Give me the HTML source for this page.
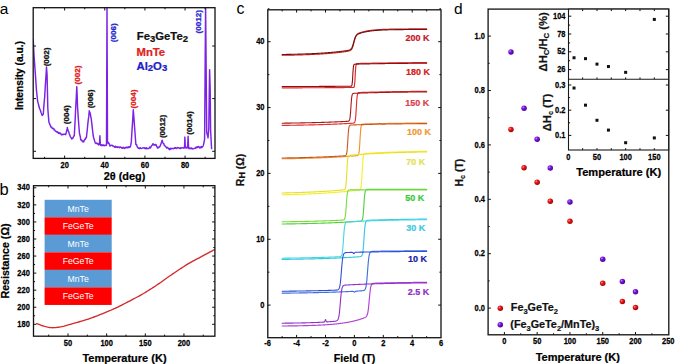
<!DOCTYPE html>
<html><head><meta charset="utf-8"><style>
html,body{margin:0;padding:0;background:#fff;width:675px;height:364px;overflow:hidden}
svg{display:block}
text{font-family:"Liberation Sans", sans-serif}
</style></head><body>
<svg width="675" height="364" viewBox="0 0 675 364">
<rect width="675" height="364" fill="#fff"/>
<text x="-0.3" y="14.0" font-size="15.5" fill="#000">a</text>
<text x="-0.6" y="195.0" font-size="16.5" fill="#000">b</text>
<text x="236.6" y="14.2" font-size="15.8" fill="#000">c</text>
<text x="453.9" y="13.8" font-size="15.5" fill="#000">d</text>
<clipPath id="ca"><rect x="33.2" y="7.7" width="181.8" height="150.70000000000002"/></clipPath>
<g clip-path="url(#ca)">
<path d="M33.2,39.6 L33.7,49.23 L34,55 L34.2,57.8 L34.7,64.8 L35,69 L35.2,71.88 L35.7,79.08 L36.2,86.28 L36.5,90.6 L36.7,92.49 L37.2,97.22 L37.6,101 L37.7,101.39 L38.2,103.34 L38.7,105.29 L39.2,107.24 L39.6,108.8 L39.7,108.95 L40,109.4 L40.2,109.63 L40.7,111.56 L41.2,113 L41.7,114.02 L42.2,115.4 L42.7,114.91 L43.2,114.3 L43.3,114 L43.7,108.33 L44.2,101.92 L44.7,96.74 L44.8,95 L45.2,88.07 L45.7,79.8 L46.2,72.64 L46.5,67 L46.7,69.63 L47.1,75 L47.2,80.19 L47.7,103.25 L47.8,108 L48.2,113.59 L48.7,119.66 L48.8,121.5 L49.2,122.69 L49.7,124.27 L50.2,125.03 L50.7,126.59 L51,127 L51.2,127.4 L51.7,126.95 L52.2,128.32 L52.7,128.49 L53.2,128.48 L53.7,128.5 L54.2,130.07 L54.7,129.92 L55.2,130.67 L55.7,131.29 L56.2,131.46 L56.5,131.4 L56.7,132.11 L57.2,131.67 L57.7,132.54 L58.2,132.34 L58.7,133.33 L59.2,133.55 L59.7,132.76 L60.2,133.11 L60.7,133.52 L61.2,134.87 L61.7,134.43 L62,134.7 L62.2,134.85 L62.7,134.31 L63.2,134.52 L63.7,134.27 L64.2,134.14 L64.7,134.39 L65.2,134.31 L65.7,134.68 L65.8,134.1 L66.2,132.59 L66.7,130.74 L67.2,128.44 L67.3,127.5 L67.7,129.59 L68.2,130.89 L68.3,131 L68.7,131.59 L69.2,133.88 L69.7,134.7 L70.2,136.33 L70.7,137.22 L71.2,137.73 L71.7,138.91 L71.9,139 L72.2,138.2 L72.7,138.4 L73.2,137.37 L73.7,136.3 L74.2,135.32 L74.3,135.8 L74.7,128.44 L75.2,118.81 L75.7,107.73 L76.2,98.9 L76.7,88.54 L76.8,86.7 L77.2,96.86 L77.6,108 L77.7,109.12 L78.2,116.85 L78.7,124.05 L79.2,129.95 L79.3,132 L79.7,134.33 L80.2,136.25 L80.7,139.6 L81.2,140.25 L81.7,140.04 L82.2,141.15 L82.7,141.63 L83.2,141.3 L83.5,141.5 L83.7,141.94 L84.2,140.32 L84.7,139.34 L85.2,139.41 L85.7,137.96 L86.2,137.54 L86.4,137.7 L86.7,134.79 L87.2,130.43 L87.7,125.16 L88.2,120.36 L88.7,116.88 L89.2,111.47 L89.3,110.8 L89.7,112.42 L90.2,113 L90.7,116.31 L91.2,118.5 L91.7,122.65 L92.2,127.09 L92.7,131.5 L93.2,135.8 L93.7,137.76 L94.2,139.46 L94.7,141.17 L95.1,142.5 L95.2,142.72 L95.7,143.42 L96.2,143.06 L96.7,143.2 L97.2,143.86 L97.7,143.43 L98.2,143.77 L98.7,144.97 L98.9,144.4 L99.2,144.23 L99.5,144 L99.7,139.97 L99.9,135.8 L100.2,141.64 L100.3,144.5 L100.7,145.1 L100.8,145.4 L101.2,145.51 L101.7,144.73 L102.2,145.56 L102.7,145.59 L103.2,144.78 L103.7,145.58 L104.2,145.35 L104.7,145.65 L105.2,145.19 L105.7,145.4 L106.2,145.44 L106.5,145 L106.7,89.33 L107,6.7 L107.2,59.53 L107.5,143 L107.7,142.28 L108.2,142.9 L108.5,142.5 L108.7,143.62 L109.2,143.78 L109.7,145.24 L110,146 L110.2,146.07 L110.7,145.54 L111.2,145.45 L111.7,145.23 L112,145.4 L112.2,145.34 L112.7,145.98 L113.2,145.88 L113.7,146.31 L114.2,146.8 L114.7,147.24 L115.2,146.25 L115.7,147.06 L116.2,147.35 L116.7,146.81 L117.2,146.74 L117.7,147.61 L118.2,146.88 L118.7,146.86 L119.2,147.26 L119.7,147.69 L120.2,146.91 L120.7,147.27 L121.2,147.35 L121.7,148.1 L122.2,147.6 L122.7,148.24 L123.2,147.34 L123.7,147.63 L124.2,148.12 L124.7,148.51 L125,148 L125.2,147.89 L125.7,147.46 L126.2,147.2 L126.7,147.66 L127.2,147.07 L127.7,147.82 L128.2,147.75 L128.7,146.72 L129.2,146.74 L129.7,147.37 L130.2,147.02 L130.3,146.8 L130.7,145.43 L131.2,142.53 L131.3,142.3 L131.7,135.28 L132.2,127.38 L132.7,119.96 L133.2,111.1 L133.3,109.8 L133.7,115.02 L134.2,121.92 L134.7,128.73 L134.8,130.2 L135.2,135.31 L135.7,142.57 L135.9,144.6 L136.2,144.5 L136.7,144.91 L137.2,146.86 L137.7,147.4 L138.2,148.18 L138.6,148 L138.7,147.91 L139.2,148.65 L139.7,148.64 L140.2,147.67 L140.7,148.43 L141.2,148.58 L141.7,148.35 L142.2,148.17 L142.7,147.87 L143.2,147.96 L143.7,147.82 L144.2,147.62 L144.7,148.37 L145.2,147.97 L145.7,148.72 L146.1,148.3 L146.2,147.65 L146.7,148.77 L147.2,148.4 L147.7,148.65 L148.2,148.54 L148.7,148.46 L149.2,147.94 L149.7,147.07 L150.2,148.02 L150.7,147.6 L151.2,146.28 L151.7,145.59 L152.2,145.24 L152.7,144.18 L152.9,143.8 L153.2,143.9 L153.7,145.01 L154.2,144.93 L154.5,145 L154.7,144.72 L155.2,144.47 L155.7,145.19 L156,144.6 L156.2,145.02 L156.7,146.58 L157.2,147.11 L157.5,148 L157.7,147.47 L158.2,147.67 L158.7,147.79 L159.2,146.61 L159.7,146.8 L160.2,145.84 L160.7,144.65 L161.2,143.12 L161.7,141.77 L162,140.5 L162.2,140.23 L162.7,142.14 L163.2,143.51 L163.7,143.42 L164.2,144.77 L164.3,145.3 L164.7,145.39 L165.2,146.28 L165.7,146.66 L166.2,147.25 L166.5,147.6 L166.7,148.12 L167.2,147.36 L167.7,147.76 L168.2,148.19 L168.7,148.51 L168.8,149.1 L169.2,148.44 L169.7,149.64 L170.2,149.41 L170.7,148.27 L171.2,148.78 L171.7,148.46 L172.2,148.39 L172.7,148.37 L173.2,148.72 L173.7,148.57 L174.2,148.19 L174.7,147.88 L174.8,148.3 L175.2,148.04 L175.7,147.72 L176.2,148.3 L176.7,148.5 L177.2,148 L177.7,147.56 L178.2,147.67 L178.7,147.91 L179.2,148.21 L179.7,148.43 L180.2,147.84 L180.7,148.4 L181.2,148.13 L181.7,147.83 L182.2,147.72 L182.7,147.87 L183.2,148.13 L183.7,147.71 L184.1,147.8 L184.2,148.07 L184.5,147.8 L184.7,142.4 L184.9,137.1 L185.2,144.77 L185.3,147.8 L185.7,147.85 L186.2,148.07 L186.7,147.2 L187.2,147.69 L187.6,147.8 L187.7,145.38 L188.1,136.2 L188.2,139.05 L188.6,147.8 L188.7,148.44 L189.2,147.79 L189.7,148.66 L190.2,148.65 L190.7,148.05 L191.2,148.47 L191.5,148.6 L191.7,148.04 L192.2,148.92 L192.7,148.63 L193.2,148.86 L193.7,148.65 L194.2,148.39 L194.7,148.4 L195.2,148.09 L195.7,147.36 L196.2,147.96 L196.4,147.8 L196.7,146.97 L197.2,146.92 L197.7,147.57 L198.1,147 L198.2,146.4 L198.7,146.63 L199.2,146.81 L199.7,148.07 L200.2,147.25 L200.5,147.8 L200.7,147 L201.2,147.8 L201.7,146.45 L202.2,147.13 L202.7,146.55 L203,146.1 L203.2,145.75 L203.7,143.85 L204.2,141.26 L204.6,139.5 L204.7,126.47 L205.2,58.15 L205.6,6.7 L205.7,16.92 L206.2,74.29 L206.7,132 L207.2,134.57 L207.7,135.99 L208,137.9 L208.2,135.77 L208.7,129.85 L208.8,128 L209.2,98.24 L209.6,69.7 L209.7,72.84 L210.2,90 L210.6,130 L210.7,131.95 L211.2,141.62 L211.6,148.6" fill="none" stroke="#7b22e6" stroke-width="1.45" stroke-linejoin="round" stroke-linecap="round" />
</g>
<rect x="33.2" y="7.7" width="181.8" height="150.7" fill="none" stroke="#111" stroke-width="1.3"/>
<line x1="64.64" y1="158.4" x2="64.64" y2="155.6" stroke="#111" stroke-width="1.0"/>
<line x1="104.78" y1="158.4" x2="104.78" y2="155.6" stroke="#111" stroke-width="1.0"/>
<line x1="144.92" y1="158.4" x2="144.92" y2="155.6" stroke="#111" stroke-width="1.0"/>
<line x1="185.06" y1="158.4" x2="185.06" y2="155.6" stroke="#111" stroke-width="1.0"/>
<line x1="44.57" y1="158.4" x2="44.57" y2="156.8" stroke="#111" stroke-width="1.0"/>
<line x1="84.71" y1="158.4" x2="84.71" y2="156.8" stroke="#111" stroke-width="1.0"/>
<line x1="124.85" y1="158.4" x2="124.85" y2="156.8" stroke="#111" stroke-width="1.0"/>
<line x1="164.99" y1="158.4" x2="164.99" y2="156.8" stroke="#111" stroke-width="1.0"/>
<line x1="205.13" y1="158.4" x2="205.13" y2="156.8" stroke="#111" stroke-width="1.0"/>
<line x1="64.64" y1="7.7" x2="64.64" y2="10.5" stroke="#111" stroke-width="1.0"/>
<line x1="104.78" y1="7.7" x2="104.78" y2="10.5" stroke="#111" stroke-width="1.0"/>
<line x1="144.92" y1="7.7" x2="144.92" y2="10.5" stroke="#111" stroke-width="1.0"/>
<line x1="185.06" y1="7.7" x2="185.06" y2="10.5" stroke="#111" stroke-width="1.0"/>
<line x1="44.57" y1="7.7" x2="44.57" y2="9.3" stroke="#111" stroke-width="1.0"/>
<line x1="84.71" y1="7.7" x2="84.71" y2="9.3" stroke="#111" stroke-width="1.0"/>
<line x1="124.85" y1="7.7" x2="124.85" y2="9.3" stroke="#111" stroke-width="1.0"/>
<line x1="164.99" y1="7.7" x2="164.99" y2="9.3" stroke="#111" stroke-width="1.0"/>
<line x1="205.13" y1="7.7" x2="205.13" y2="9.3" stroke="#111" stroke-width="1.0"/>
<line x1="33.2" y1="46" x2="36" y2="46" stroke="#111" stroke-width="1.0"/>
<line x1="33.2" y1="98.6" x2="36" y2="98.6" stroke="#111" stroke-width="1.0"/>
<line x1="33.2" y1="151.3" x2="36" y2="151.3" stroke="#111" stroke-width="1.0"/>
<line x1="215" y1="46" x2="212.2" y2="46" stroke="#111" stroke-width="1.0"/>
<line x1="215" y1="98.6" x2="212.2" y2="98.6" stroke="#111" stroke-width="1.0"/>
<line x1="215" y1="151.3" x2="212.2" y2="151.3" stroke="#111" stroke-width="1.0"/>
<text transform="translate(64.64 165.2) scale(1 1.15)" font-size="7.5" fill="#000" font-weight="bold" text-anchor="middle" dominant-baseline="central"  stroke="#000" stroke-width="0.22">20</text>
<text transform="translate(104.78 165.2) scale(1 1.15)" font-size="7.5" fill="#000" font-weight="bold" text-anchor="middle" dominant-baseline="central"  stroke="#000" stroke-width="0.22">40</text>
<text transform="translate(144.92 165.2) scale(1 1.15)" font-size="7.5" fill="#000" font-weight="bold" text-anchor="middle" dominant-baseline="central"  stroke="#000" stroke-width="0.22">60</text>
<text transform="translate(185.06 165.2) scale(1 1.15)" font-size="7.5" fill="#000" font-weight="bold" text-anchor="middle" dominant-baseline="central"  stroke="#000" stroke-width="0.22">80</text>
<text x="124.5" y="176.3" font-size="10.9" fill="#000" font-weight="bold" text-anchor="middle" dominant-baseline="central"  stroke="#000" stroke-width="0.22">2&#952; (deg)</text>
<text x="19.8" y="75.6" font-size="10.2" fill="#000" font-weight="bold" text-anchor="middle" dominant-baseline="central" transform="rotate(-90 19.8 75.6)"  stroke="#000" stroke-width="0.22">Intensity (a.u.)</text>
<text x="46.6" y="56.9" font-size="8.1" fill="#111" font-weight="bold" text-anchor="middle" dominant-baseline="central" transform="rotate(-90 46.6 56.9)" stroke="#111" stroke-width="0.3">(002)</text>
<text x="66.6" y="114.8" font-size="8.1" fill="#111" font-weight="bold" text-anchor="middle" dominant-baseline="central" transform="rotate(-90 66.6 114.8)" stroke="#111" stroke-width="0.3">(004)</text>
<text x="77.9" y="75" font-size="8.1" fill="#e02020" font-weight="bold" text-anchor="middle" dominant-baseline="central" transform="rotate(-90 77.9 75)" stroke="#e02020" stroke-width="0.3">(002)</text>
<text x="90.7" y="98.9" font-size="8.1" fill="#111" font-weight="bold" text-anchor="middle" dominant-baseline="central" transform="rotate(-90 90.7 98.9)" stroke="#111" stroke-width="0.3">(006)</text>
<text x="113.6" y="32.7" font-size="8.1" fill="#2a2ad0" font-weight="bold" text-anchor="middle" dominant-baseline="central" transform="rotate(-90 113.6 32.7)" stroke="#2a2ad0" stroke-width="0.3">(006)</text>
<text x="133.4" y="99.1" font-size="8.1" fill="#e02020" font-weight="bold" text-anchor="middle" dominant-baseline="central" transform="rotate(-90 133.4 99.1)" stroke="#e02020" stroke-width="0.3">(004)</text>
<text x="162.5" y="126.4" font-size="8.1" fill="#111" font-weight="bold" text-anchor="middle" dominant-baseline="central" transform="rotate(-90 162.5 126.4)" stroke="#111" stroke-width="0.3">(0012)</text>
<text x="189.7" y="123" font-size="8.1" fill="#111" font-weight="bold" text-anchor="middle" dominant-baseline="central" transform="rotate(-90 189.7 123)" stroke="#111" stroke-width="0.3">(0014)</text>
<text x="198.5" y="21.7" font-size="8.1" fill="#2a2ad0" font-weight="bold" text-anchor="middle" dominant-baseline="central" transform="rotate(-90 198.5 21.7)" stroke="#2a2ad0" stroke-width="0.3">(0012)</text>
<text x="136.8" y="40" font-size="11.3" font-weight="bold" fill="#111" stroke="#111" stroke-width="0.22">Fe<tspan font-size="9.5" dy="1.5">3</tspan><tspan dy="-1.5">GeTe</tspan><tspan font-size="9.5" dy="1.5">2</tspan></text>
<text x="136.5" y="55.5" font-size="11.3" font-weight="bold" fill="#e02020" stroke="#e02020" stroke-width="0.22">MnTe</text>
<text x="136.5" y="69.5" font-size="11.3" font-weight="bold" fill="#2020c8" stroke="#2020c8" stroke-width="0.22">Al<tspan font-size="9.5" dy="1.5">2</tspan><tspan dy="-1.5">O</tspan><tspan font-size="9.5" dy="1.5">3</tspan></text>
<rect x="44.6" y="199.8" width="67.1" height="17.57" fill="#5b9bd5"/>
<text x="78.15" y="208.86" font-size="8.7" fill="#fff" font-weight="normal" text-anchor="middle" dominant-baseline="central" >MnTe</text>
<rect x="44.6" y="217.32" width="67.1" height="17.57" fill="#ff0000"/>
<text x="78.15" y="226.38" font-size="8.7" fill="#fff" font-weight="normal" text-anchor="middle" dominant-baseline="central" >FeGeTe</text>
<rect x="44.6" y="234.83" width="67.1" height="17.57" fill="#5b9bd5"/>
<text x="78.15" y="243.89" font-size="8.7" fill="#fff" font-weight="normal" text-anchor="middle" dominant-baseline="central" >MnTe</text>
<rect x="44.6" y="252.35" width="67.1" height="17.57" fill="#ff0000"/>
<text x="78.15" y="261.41" font-size="8.7" fill="#fff" font-weight="normal" text-anchor="middle" dominant-baseline="central" >FeGeTe</text>
<rect x="44.6" y="269.87" width="67.1" height="17.57" fill="#5b9bd5"/>
<text x="78.15" y="278.93" font-size="8.7" fill="#fff" font-weight="normal" text-anchor="middle" dominant-baseline="central" >MnTe</text>
<rect x="44.6" y="287.38" width="67.1" height="17.57" fill="#ff0000"/>
<text x="78.15" y="296.44" font-size="8.7" fill="#fff" font-weight="normal" text-anchor="middle" dominant-baseline="central" >FeGeTe</text>
<clipPath id="cb"><rect x="33.5" y="185.7" width="181.4" height="150.5"/></clipPath>
<g clip-path="url(#cb)">
<path d="M36.69,323.53 L37.32,323.77 L38.16,324.09 L39.15,324.48 L40.26,324.9 L41.43,325.34 L42.61,325.75 L43.75,326.13 L44.81,326.43 L45.8,326.69 L46.77,326.92 L47.73,327.14 L48.69,327.32 L49.66,327.48 L50.64,327.6 L51.65,327.68 L52.69,327.71 L53.77,327.7 L54.87,327.64 L55.98,327.54 L57.12,327.41 L58.27,327.24 L59.44,327.05 L60.62,326.84 L61.82,326.6 L62.99,326.35 L64.14,326.08 L65.28,325.78 L66.44,325.45 L67.66,325.1 L68.95,324.72 L70.34,324.31 L71.86,323.87 L73.55,323.4 L75.4,322.88 L77.37,322.32 L79.4,321.75 L81.46,321.15 L83.5,320.55 L85.47,319.95 L87.33,319.35 L89.07,318.77 L90.76,318.18 L92.39,317.6 L93.99,317 L95.58,316.4 L97.18,315.78 L98.8,315.15 L100.47,314.49 L102.17,313.82 L103.89,313.13 L105.63,312.44 L107.37,311.72 L109.13,310.99 L110.88,310.25 L112.64,309.48 L114.38,308.69 L116.12,307.88 L117.85,307.04 L119.58,306.18 L121.31,305.31 L123.05,304.42 L124.79,303.52 L126.54,302.61 L128.29,301.7 L130.06,300.78 L131.84,299.85 L133.63,298.92 L135.42,297.98 L137.21,297.02 L139.01,296.04 L140.8,295.04 L142.59,294.02 L144.38,292.97 L146.18,291.89 L147.97,290.79 L149.77,289.67 L151.56,288.54 L153.35,287.39 L155.13,286.23 L156.89,285.06 L158.63,283.89 L160.33,282.7 L162.02,281.5 L163.7,280.29 L165.4,279.06 L167.14,277.81 L168.94,276.55 L170.81,275.25 L172.79,273.9 L174.88,272.48 L177.04,271.02 L179.23,269.55 L181.42,268.1 L183.56,266.7 L185.63,265.37 L187.58,264.16 L189.42,263.07 L191.16,262.08 L192.84,261.16 L194.48,260.3 L196.08,259.46 L197.69,258.64 L199.3,257.79 L200.96,256.91 L202.71,255.96 L204.58,254.96 L206.5,253.92 L208.39,252.9 L210.2,251.93 L211.85,251.04 L213.27,250.27 L214.41,249.66 L215.22,249.22 L215.76,248.93 L216.09,248.75 L216.25,248.65 L216.31,248.62 L216.32,248.61 L216.34,248.6 L216.42,248.55" fill="none" stroke="#d42a2a" stroke-width="1.35" stroke-linejoin="round" stroke-linecap="round" />
</g>
<rect x="33.5" y="185.7" width="181.4" height="150.5" fill="none" stroke="#111" stroke-width="1.3"/>
<line x1="68" y1="336.2" x2="68" y2="333.4" stroke="#111" stroke-width="1.0"/>
<line x1="106.65" y1="336.2" x2="106.65" y2="333.4" stroke="#111" stroke-width="1.0"/>
<line x1="145.3" y1="336.2" x2="145.3" y2="333.4" stroke="#111" stroke-width="1.0"/>
<line x1="183.95" y1="336.2" x2="183.95" y2="333.4" stroke="#111" stroke-width="1.0"/>
<line x1="48.67" y1="336.2" x2="48.67" y2="334.6" stroke="#111" stroke-width="1.0"/>
<line x1="87.33" y1="336.2" x2="87.33" y2="334.6" stroke="#111" stroke-width="1.0"/>
<line x1="125.97" y1="336.2" x2="125.97" y2="334.6" stroke="#111" stroke-width="1.0"/>
<line x1="164.62" y1="336.2" x2="164.62" y2="334.6" stroke="#111" stroke-width="1.0"/>
<line x1="203.28" y1="336.2" x2="203.28" y2="334.6" stroke="#111" stroke-width="1.0"/>
<line x1="68" y1="185.7" x2="68" y2="188.5" stroke="#111" stroke-width="1.0"/>
<line x1="106.65" y1="185.7" x2="106.65" y2="188.5" stroke="#111" stroke-width="1.0"/>
<line x1="145.3" y1="185.7" x2="145.3" y2="188.5" stroke="#111" stroke-width="1.0"/>
<line x1="183.95" y1="185.7" x2="183.95" y2="188.5" stroke="#111" stroke-width="1.0"/>
<line x1="48.67" y1="185.7" x2="48.67" y2="187.3" stroke="#111" stroke-width="1.0"/>
<line x1="87.33" y1="185.7" x2="87.33" y2="187.3" stroke="#111" stroke-width="1.0"/>
<line x1="125.97" y1="185.7" x2="125.97" y2="187.3" stroke="#111" stroke-width="1.0"/>
<line x1="164.62" y1="185.7" x2="164.62" y2="187.3" stroke="#111" stroke-width="1.0"/>
<line x1="203.28" y1="185.7" x2="203.28" y2="187.3" stroke="#111" stroke-width="1.0"/>
<line x1="33.5" y1="324.3" x2="36.3" y2="324.3" stroke="#111" stroke-width="1.0"/>
<line x1="33.5" y1="307.24" x2="36.3" y2="307.24" stroke="#111" stroke-width="1.0"/>
<line x1="33.5" y1="290.18" x2="36.3" y2="290.18" stroke="#111" stroke-width="1.0"/>
<line x1="33.5" y1="273.12" x2="36.3" y2="273.12" stroke="#111" stroke-width="1.0"/>
<line x1="33.5" y1="256.06" x2="36.3" y2="256.06" stroke="#111" stroke-width="1.0"/>
<line x1="33.5" y1="239" x2="36.3" y2="239" stroke="#111" stroke-width="1.0"/>
<line x1="33.5" y1="221.94" x2="36.3" y2="221.94" stroke="#111" stroke-width="1.0"/>
<line x1="33.5" y1="204.88" x2="36.3" y2="204.88" stroke="#111" stroke-width="1.0"/>
<line x1="33.5" y1="187.82" x2="36.3" y2="187.82" stroke="#111" stroke-width="1.0"/>
<line x1="33.5" y1="315.77" x2="35.1" y2="315.77" stroke="#111" stroke-width="1.0"/>
<line x1="33.5" y1="298.71" x2="35.1" y2="298.71" stroke="#111" stroke-width="1.0"/>
<line x1="33.5" y1="281.65" x2="35.1" y2="281.65" stroke="#111" stroke-width="1.0"/>
<line x1="33.5" y1="264.59" x2="35.1" y2="264.59" stroke="#111" stroke-width="1.0"/>
<line x1="33.5" y1="247.53" x2="35.1" y2="247.53" stroke="#111" stroke-width="1.0"/>
<line x1="33.5" y1="230.47" x2="35.1" y2="230.47" stroke="#111" stroke-width="1.0"/>
<line x1="33.5" y1="213.41" x2="35.1" y2="213.41" stroke="#111" stroke-width="1.0"/>
<line x1="33.5" y1="196.35" x2="35.1" y2="196.35" stroke="#111" stroke-width="1.0"/>
<line x1="214.9" y1="324.3" x2="212.1" y2="324.3" stroke="#111" stroke-width="1.0"/>
<line x1="214.9" y1="307.24" x2="212.1" y2="307.24" stroke="#111" stroke-width="1.0"/>
<line x1="214.9" y1="290.18" x2="212.1" y2="290.18" stroke="#111" stroke-width="1.0"/>
<line x1="214.9" y1="273.12" x2="212.1" y2="273.12" stroke="#111" stroke-width="1.0"/>
<line x1="214.9" y1="256.06" x2="212.1" y2="256.06" stroke="#111" stroke-width="1.0"/>
<line x1="214.9" y1="239" x2="212.1" y2="239" stroke="#111" stroke-width="1.0"/>
<line x1="214.9" y1="221.94" x2="212.1" y2="221.94" stroke="#111" stroke-width="1.0"/>
<line x1="214.9" y1="204.88" x2="212.1" y2="204.88" stroke="#111" stroke-width="1.0"/>
<line x1="214.9" y1="187.82" x2="212.1" y2="187.82" stroke="#111" stroke-width="1.0"/>
<line x1="214.9" y1="315.77" x2="213.3" y2="315.77" stroke="#111" stroke-width="1.0"/>
<line x1="214.9" y1="298.71" x2="213.3" y2="298.71" stroke="#111" stroke-width="1.0"/>
<line x1="214.9" y1="281.65" x2="213.3" y2="281.65" stroke="#111" stroke-width="1.0"/>
<line x1="214.9" y1="264.59" x2="213.3" y2="264.59" stroke="#111" stroke-width="1.0"/>
<line x1="214.9" y1="247.53" x2="213.3" y2="247.53" stroke="#111" stroke-width="1.0"/>
<line x1="214.9" y1="230.47" x2="213.3" y2="230.47" stroke="#111" stroke-width="1.0"/>
<line x1="214.9" y1="213.41" x2="213.3" y2="213.41" stroke="#111" stroke-width="1.0"/>
<line x1="214.9" y1="196.35" x2="213.3" y2="196.35" stroke="#111" stroke-width="1.0"/>
<text transform="translate(29.8 324.3) scale(1 1.15)" font-size="7.5" fill="#000" font-weight="bold" text-anchor="end" dominant-baseline="central"  stroke="#000" stroke-width="0.22">180</text>
<text transform="translate(29.8 307.24) scale(1 1.15)" font-size="7.5" fill="#000" font-weight="bold" text-anchor="end" dominant-baseline="central"  stroke="#000" stroke-width="0.22">200</text>
<text transform="translate(29.8 290.18) scale(1 1.15)" font-size="7.5" fill="#000" font-weight="bold" text-anchor="end" dominant-baseline="central"  stroke="#000" stroke-width="0.22">220</text>
<text transform="translate(29.8 273.12) scale(1 1.15)" font-size="7.5" fill="#000" font-weight="bold" text-anchor="end" dominant-baseline="central"  stroke="#000" stroke-width="0.22">240</text>
<text transform="translate(29.8 256.06) scale(1 1.15)" font-size="7.5" fill="#000" font-weight="bold" text-anchor="end" dominant-baseline="central"  stroke="#000" stroke-width="0.22">260</text>
<text transform="translate(29.8 239) scale(1 1.15)" font-size="7.5" fill="#000" font-weight="bold" text-anchor="end" dominant-baseline="central"  stroke="#000" stroke-width="0.22">280</text>
<text transform="translate(29.8 221.94) scale(1 1.15)" font-size="7.5" fill="#000" font-weight="bold" text-anchor="end" dominant-baseline="central"  stroke="#000" stroke-width="0.22">300</text>
<text transform="translate(29.8 204.88) scale(1 1.15)" font-size="7.5" fill="#000" font-weight="bold" text-anchor="end" dominant-baseline="central"  stroke="#000" stroke-width="0.22">320</text>
<text transform="translate(29.8 187.82) scale(1 1.15)" font-size="7.5" fill="#000" font-weight="bold" text-anchor="end" dominant-baseline="central"  stroke="#000" stroke-width="0.22">340</text>
<text transform="translate(68 343.2) scale(1 1.15)" font-size="7.5" fill="#000" font-weight="bold" text-anchor="middle" dominant-baseline="central"  stroke="#000" stroke-width="0.22">50</text>
<text transform="translate(106.65 343.2) scale(1 1.15)" font-size="7.5" fill="#000" font-weight="bold" text-anchor="middle" dominant-baseline="central"  stroke="#000" stroke-width="0.22">100</text>
<text transform="translate(145.3 343.2) scale(1 1.15)" font-size="7.5" fill="#000" font-weight="bold" text-anchor="middle" dominant-baseline="central"  stroke="#000" stroke-width="0.22">150</text>
<text transform="translate(183.95 343.2) scale(1 1.15)" font-size="7.5" fill="#000" font-weight="bold" text-anchor="middle" dominant-baseline="central"  stroke="#000" stroke-width="0.22">200</text>
<text x="124.5" y="358.2" font-size="11.0" fill="#000" font-weight="bold" text-anchor="middle" dominant-baseline="central"  stroke="#000" stroke-width="0.22">Temperature (K)</text>
<text x="5" y="261" font-size="10.7" fill="#000" font-weight="bold" text-anchor="middle" dominant-baseline="central" transform="rotate(-90 5 261)"  stroke="#000" stroke-width="0.22">Resistance (&#937;)</text>
<rect x="267.8" y="9.8" width="173.2" height="327.9" fill="none" stroke="#111" stroke-width="1.3"/>
<line x1="296.6" y1="337.7" x2="296.6" y2="334.9" stroke="#111" stroke-width="1.0"/>
<line x1="325.5" y1="337.7" x2="325.5" y2="334.9" stroke="#111" stroke-width="1.0"/>
<line x1="354.4" y1="337.7" x2="354.4" y2="334.9" stroke="#111" stroke-width="1.0"/>
<line x1="383.3" y1="337.7" x2="383.3" y2="334.9" stroke="#111" stroke-width="1.0"/>
<line x1="412.2" y1="337.7" x2="412.2" y2="334.9" stroke="#111" stroke-width="1.0"/>
<line x1="282.15" y1="337.7" x2="282.15" y2="336.1" stroke="#111" stroke-width="1.0"/>
<line x1="311.05" y1="337.7" x2="311.05" y2="336.1" stroke="#111" stroke-width="1.0"/>
<line x1="339.95" y1="337.7" x2="339.95" y2="336.1" stroke="#111" stroke-width="1.0"/>
<line x1="368.85" y1="337.7" x2="368.85" y2="336.1" stroke="#111" stroke-width="1.0"/>
<line x1="397.75" y1="337.7" x2="397.75" y2="336.1" stroke="#111" stroke-width="1.0"/>
<line x1="426.65" y1="337.7" x2="426.65" y2="336.1" stroke="#111" stroke-width="1.0"/>
<line x1="296.6" y1="9.8" x2="296.6" y2="12.6" stroke="#111" stroke-width="1.0"/>
<line x1="325.5" y1="9.8" x2="325.5" y2="12.6" stroke="#111" stroke-width="1.0"/>
<line x1="354.4" y1="9.8" x2="354.4" y2="12.6" stroke="#111" stroke-width="1.0"/>
<line x1="383.3" y1="9.8" x2="383.3" y2="12.6" stroke="#111" stroke-width="1.0"/>
<line x1="412.2" y1="9.8" x2="412.2" y2="12.6" stroke="#111" stroke-width="1.0"/>
<line x1="282.15" y1="9.8" x2="282.15" y2="11.4" stroke="#111" stroke-width="1.0"/>
<line x1="311.05" y1="9.8" x2="311.05" y2="11.4" stroke="#111" stroke-width="1.0"/>
<line x1="339.95" y1="9.8" x2="339.95" y2="11.4" stroke="#111" stroke-width="1.0"/>
<line x1="368.85" y1="9.8" x2="368.85" y2="11.4" stroke="#111" stroke-width="1.0"/>
<line x1="397.75" y1="9.8" x2="397.75" y2="11.4" stroke="#111" stroke-width="1.0"/>
<line x1="426.65" y1="9.8" x2="426.65" y2="11.4" stroke="#111" stroke-width="1.0"/>
<line x1="267.8" y1="305.1" x2="270.6" y2="305.1" stroke="#111" stroke-width="1.0"/>
<line x1="267.8" y1="239.25" x2="270.6" y2="239.25" stroke="#111" stroke-width="1.0"/>
<line x1="267.8" y1="173.4" x2="270.6" y2="173.4" stroke="#111" stroke-width="1.0"/>
<line x1="267.8" y1="107.55" x2="270.6" y2="107.55" stroke="#111" stroke-width="1.0"/>
<line x1="267.8" y1="41.7" x2="270.6" y2="41.7" stroke="#111" stroke-width="1.0"/>
<line x1="267.8" y1="272.18" x2="269.4" y2="272.18" stroke="#111" stroke-width="1.0"/>
<line x1="267.8" y1="206.33" x2="269.4" y2="206.33" stroke="#111" stroke-width="1.0"/>
<line x1="267.8" y1="140.48" x2="269.4" y2="140.48" stroke="#111" stroke-width="1.0"/>
<line x1="267.8" y1="74.63" x2="269.4" y2="74.63" stroke="#111" stroke-width="1.0"/>
<line x1="267.8" y1="8.78" x2="269.4" y2="8.78" stroke="#111" stroke-width="1.0"/>
<line x1="441" y1="305.1" x2="438.2" y2="305.1" stroke="#111" stroke-width="1.0"/>
<line x1="441" y1="239.25" x2="438.2" y2="239.25" stroke="#111" stroke-width="1.0"/>
<line x1="441" y1="173.4" x2="438.2" y2="173.4" stroke="#111" stroke-width="1.0"/>
<line x1="441" y1="107.55" x2="438.2" y2="107.55" stroke="#111" stroke-width="1.0"/>
<line x1="441" y1="41.7" x2="438.2" y2="41.7" stroke="#111" stroke-width="1.0"/>
<line x1="441" y1="272.18" x2="439.4" y2="272.18" stroke="#111" stroke-width="1.0"/>
<line x1="441" y1="206.33" x2="439.4" y2="206.33" stroke="#111" stroke-width="1.0"/>
<line x1="441" y1="140.48" x2="439.4" y2="140.48" stroke="#111" stroke-width="1.0"/>
<line x1="441" y1="74.63" x2="439.4" y2="74.63" stroke="#111" stroke-width="1.0"/>
<line x1="441" y1="8.78" x2="439.4" y2="8.78" stroke="#111" stroke-width="1.0"/>
<text transform="translate(264.5 305.1) scale(1 1.15)" font-size="7.5" fill="#000" font-weight="bold" text-anchor="end" dominant-baseline="central"  stroke="#000" stroke-width="0.22">0</text>
<text transform="translate(264.5 239.25) scale(1 1.15)" font-size="7.5" fill="#000" font-weight="bold" text-anchor="end" dominant-baseline="central"  stroke="#000" stroke-width="0.22">10</text>
<text transform="translate(264.5 173.4) scale(1 1.15)" font-size="7.5" fill="#000" font-weight="bold" text-anchor="end" dominant-baseline="central"  stroke="#000" stroke-width="0.22">20</text>
<text transform="translate(264.5 107.55) scale(1 1.15)" font-size="7.5" fill="#000" font-weight="bold" text-anchor="end" dominant-baseline="central"  stroke="#000" stroke-width="0.22">30</text>
<text transform="translate(264.5 41.7) scale(1 1.15)" font-size="7.5" fill="#000" font-weight="bold" text-anchor="end" dominant-baseline="central"  stroke="#000" stroke-width="0.22">40</text>
<text transform="translate(267.7 343.6) scale(1 1.15)" font-size="7.5" fill="#000" font-weight="bold" text-anchor="middle" dominant-baseline="central"  stroke="#000" stroke-width="0.22">-6</text>
<text transform="translate(296.6 343.6) scale(1 1.15)" font-size="7.5" fill="#000" font-weight="bold" text-anchor="middle" dominant-baseline="central"  stroke="#000" stroke-width="0.22">-4</text>
<text transform="translate(325.5 343.6) scale(1 1.15)" font-size="7.5" fill="#000" font-weight="bold" text-anchor="middle" dominant-baseline="central"  stroke="#000" stroke-width="0.22">-2</text>
<text transform="translate(354.4 343.6) scale(1 1.15)" font-size="7.5" fill="#000" font-weight="bold" text-anchor="middle" dominant-baseline="central"  stroke="#000" stroke-width="0.22">0</text>
<text transform="translate(383.3 343.6) scale(1 1.15)" font-size="7.5" fill="#000" font-weight="bold" text-anchor="middle" dominant-baseline="central"  stroke="#000" stroke-width="0.22">2</text>
<text transform="translate(412.2 343.6) scale(1 1.15)" font-size="7.5" fill="#000" font-weight="bold" text-anchor="middle" dominant-baseline="central"  stroke="#000" stroke-width="0.22">4</text>
<text transform="translate(441.1 343.6) scale(1 1.15)" font-size="7.5" fill="#000" font-weight="bold" text-anchor="middle" dominant-baseline="central"  stroke="#000" stroke-width="0.22">6</text>
<text x="354.5" y="358.3" font-size="10.7" fill="#000" font-weight="bold" text-anchor="middle" dominant-baseline="central"  stroke="#000" stroke-width="0.22">Field (T)</text>
<text transform="translate(244.0 186.2) rotate(-90)" font-size="10.5" font-weight="bold" fill="#111" stroke="#111" stroke-width="0.22">R<tspan font-size="9" dy="1.3">H</tspan><tspan dy="-1.3"> (&#937;)</tspan></text>
<clipPath id="cc"><rect x="267.8" y="9.8" width="173.2" height="327.9"/></clipPath>
<g clip-path="url(#cc)">
<path d="M282.15,55.3 L282.63,55.29 L283.11,55.28 L283.59,55.28 L284.08,55.27 L284.56,55.26 L285.04,55.25 L285.52,55.24 L286,55.23 L286.48,55.22 L286.97,55.22 L287.45,55.21 L287.93,55.2 L288.41,55.19 L288.89,55.18 L289.38,55.17 L289.86,55.16 L290.34,55.15 L290.82,55.14 L291.3,55.13 L291.78,55.12 L292.26,55.11 L292.75,55.09 L293.23,55.08 L293.71,55.07 L294.19,55.06 L294.67,55.05 L295.15,55.04 L295.64,55.02 L296.12,55.01 L296.6,55 L297.08,54.99 L297.56,54.97 L298.04,54.96 L298.53,54.95 L299.01,54.93 L299.49,54.92 L299.97,54.9 L300.45,54.89 L300.93,54.87 L301.42,54.86 L301.9,54.84 L302.38,54.83 L302.86,54.81 L303.34,54.8 L303.82,54.78 L304.31,54.76 L304.79,54.75 L305.27,54.73 L305.75,54.71 L306.23,54.7 L306.71,54.68 L307.2,54.66 L307.68,54.64 L308.16,54.62 L308.64,54.6 L309.12,54.58 L309.6,54.56 L310.09,54.54 L310.57,54.52 L311.05,54.5 L311.53,54.48 L312.01,54.46 L312.5,54.44 L312.98,54.41 L313.46,54.39 L313.94,54.37 L314.42,54.34 L314.9,54.32 L315.38,54.3 L315.87,54.27 L316.35,54.25 L316.83,54.22 L317.31,54.2 L317.79,54.17 L318.27,54.14 L318.76,54.11 L319.24,54.09 L319.72,54.06 L320.2,54.03 L320.68,54 L321.16,53.97 L321.65,53.94 L322.13,53.91 L322.61,53.88 L323.09,53.85 L323.57,53.82 L324.05,53.78 L324.54,53.75 L325.02,53.72 L325.5,53.68 L325.98,53.65 L326.46,53.61 L326.94,53.57 L327.43,53.54 L327.91,53.5 L328.39,53.46 L328.87,53.42 L329.35,53.38 L329.83,53.34 L330.32,53.3 L330.8,53.26 L331.28,53.22 L331.76,53.18 L332.24,53.13 L332.72,53.09 L333.21,53.04 L333.69,53 L334.17,52.95 L334.65,52.9 L335.13,52.86 L335.62,52.81 L336.1,52.76 L336.58,52.71 L337.06,52.66 L337.54,52.6 L338.02,52.55 L338.5,52.5 L338.99,52.44 L339.47,52.39 L339.95,52.33 L340.43,52.27 L340.91,52.21 L341.39,52.15 L341.88,52.09 L342.36,52.03 L342.84,51.97 L343.32,51.9 L343.8,51.84 L344.28,51.77 L344.77,51.7 L345.25,51.64 L345.73,51.57 L346.21,51.49 L346.69,51.42 L347.17,51.34 L347.66,51.26 L348.14,51.16 L348.62,51.06 L349.1,50.94 L349.58,50.79 L350.06,50.6 L350.55,50.34 L351.03,49.98 L351.51,49.45 L351.99,48.71 L352.47,47.67 L352.95,46.3 L353.44,44.61 L353.92,42.71 L354.4,40.78 L354.88,39.01 L355.36,37.52 L355.84,36.34 L356.33,35.44 L356.81,34.77 L357.29,34.26 L357.77,33.87 L358.25,33.55 L358.73,33.29 L359.22,33.07 L359.7,32.87 L360.18,32.69 L360.66,32.52 L361.14,32.37 L361.62,32.22 L362.11,32.08 L362.59,31.95 L363.07,31.82 L363.55,31.7 L364.03,31.59 L364.51,31.48 L365,31.37 L365.48,31.27 L365.96,31.17 L366.44,31.08 L366.92,30.99 L367.4,30.9 L367.89,30.82 L368.37,30.74 L368.85,30.67 L369.33,30.6 L369.81,30.53 L370.29,30.46 L370.78,30.39 L371.26,30.33 L371.74,30.27 L372.22,30.22 L372.7,30.16 L373.18,30.11 L373.67,30.06 L374.15,30.01 L374.63,29.97 L375.11,29.92 L375.59,29.88 L376.07,29.84 L376.56,29.8 L377.04,29.76 L377.52,29.73 L378,29.69 L378.48,29.66 L378.96,29.63 L379.45,29.6 L379.93,29.57 L380.41,29.54 L380.89,29.52 L381.37,29.49 L381.85,29.47 L382.34,29.44 L382.82,29.42 L383.3,29.4 L383.78,29.38 L384.26,29.36 L384.74,29.34 L385.23,29.32 L385.71,29.3 L386.19,29.29 L386.67,29.27 L387.15,29.25 L387.63,29.24 L388.12,29.22 L388.6,29.21 L389.08,29.2 L389.56,29.18 L390.04,29.17 L390.52,29.16 L391.01,29.15 L391.49,29.14 L391.97,29.13 L392.45,29.12 L392.93,29.11 L393.41,29.1 L393.9,29.09 L394.38,29.08 L394.86,29.08 L395.34,29.07 L395.82,29.06 L396.3,29.05 L396.79,29.05 L397.27,29.04 L397.75,29.03 L398.23,29.03 L398.71,29.02 L399.19,29.02 L399.68,29.01 L400.16,29.01 L400.64,29 L401.12,29 L401.6,28.99 L402.08,28.99 L402.57,28.98 L403.05,28.98 L403.53,28.98 L404.01,28.97 L404.49,28.97 L404.97,28.97 L405.46,28.96 L405.94,28.96 L406.42,28.96 L406.9,28.95 L407.38,28.95 L407.86,28.95 L408.35,28.95 L408.83,28.94 L409.31,28.94 L409.79,28.94 L410.27,28.94 L410.75,28.94 L411.24,28.93 L411.72,28.93 L412.2,28.93 L412.68,28.93 L413.16,28.93 L413.64,28.92 L414.13,28.92 L414.61,28.92 L415.09,28.92 L415.57,28.92 L416.05,28.92 L416.53,28.92 L417.02,28.92 L417.5,28.91 L417.98,28.91 L418.46,28.91 L418.94,28.91 L419.42,28.91 L419.91,28.91 L420.39,28.91 L420.87,28.91 L421.35,28.91 L421.83,28.91 L422.31,28.91 L422.8,28.9 L423.28,28.9 L423.76,28.9 L424.24,28.9 L424.72,28.9 L425.2,28.9 L425.69,28.9 L426.17,28.9 L426.65,28.9" fill="none" stroke="#d02020" stroke-width="1.15" stroke-linejoin="round" stroke-linecap="round" />
<path d="M426.65,29.5 L426.17,29.5 L425.69,29.5 L425.2,29.5 L424.72,29.5 L424.24,29.5 L423.76,29.5 L423.28,29.5 L422.8,29.5 L422.31,29.51 L421.83,29.51 L421.35,29.51 L420.87,29.51 L420.39,29.51 L419.91,29.51 L419.42,29.51 L418.94,29.51 L418.46,29.51 L417.98,29.51 L417.5,29.51 L417.02,29.52 L416.53,29.52 L416.05,29.52 L415.57,29.52 L415.09,29.52 L414.61,29.52 L414.13,29.52 L413.64,29.52 L413.16,29.53 L412.68,29.53 L412.2,29.53 L411.72,29.53 L411.24,29.53 L410.75,29.54 L410.27,29.54 L409.79,29.54 L409.31,29.54 L408.83,29.54 L408.35,29.55 L407.87,29.55 L407.38,29.55 L406.9,29.55 L406.42,29.56 L405.94,29.56 L405.46,29.56 L404.97,29.57 L404.49,29.57 L404.01,29.57 L403.53,29.58 L403.05,29.58 L402.57,29.58 L402.08,29.59 L401.6,29.59 L401.12,29.6 L400.64,29.6 L400.16,29.61 L399.68,29.61 L399.19,29.62 L398.71,29.62 L398.23,29.63 L397.75,29.63 L397.27,29.64 L396.79,29.65 L396.3,29.65 L395.82,29.66 L395.34,29.67 L394.86,29.68 L394.38,29.68 L393.9,29.69 L393.41,29.7 L392.93,29.71 L392.45,29.72 L391.97,29.73 L391.49,29.74 L391.01,29.75 L390.52,29.76 L390.04,29.77 L389.56,29.78 L389.08,29.8 L388.6,29.81 L388.12,29.82 L387.63,29.84 L387.15,29.85 L386.67,29.87 L386.19,29.89 L385.71,29.9 L385.23,29.92 L384.75,29.94 L384.26,29.96 L383.78,29.98 L383.3,30 L382.82,30.02 L382.34,30.04 L381.85,30.07 L381.37,30.09 L380.89,30.12 L380.41,30.14 L379.93,30.17 L379.45,30.2 L378.96,30.23 L378.48,30.26 L378,30.29 L377.52,30.33 L377.04,30.36 L376.56,30.4 L376.07,30.44 L375.59,30.48 L375.11,30.52 L374.63,30.57 L374.15,30.61 L373.67,30.66 L373.18,30.71 L372.7,30.76 L372.22,30.82 L371.74,30.87 L371.26,30.93 L370.78,30.99 L370.29,31.06 L369.81,31.13 L369.33,31.2 L368.85,31.27 L368.37,31.34 L367.89,31.42 L367.4,31.5 L366.92,31.59 L366.44,31.68 L365.96,31.77 L365.48,31.87 L365,31.97 L364.51,32.08 L364.03,32.19 L363.55,32.3 L363.07,32.42 L362.59,32.55 L362.11,32.68 L361.62,32.82 L361.14,32.96 L360.66,33.11 L360.18,33.28 L359.7,33.45 L359.22,33.63 L358.73,33.84 L358.25,34.07 L357.77,34.34 L357.29,34.66 L356.81,35.05 L356.33,35.56 L355.84,36.23 L355.36,37.11 L354.88,38.24 L354.4,39.66 L353.92,41.31 L353.44,43.07 L352.95,44.77 L352.47,46.25 L351.99,47.44 L351.51,48.32 L351.03,48.96 L350.55,49.4 L350.06,49.71 L349.58,49.94 L349.1,50.11 L348.62,50.24 L348.14,50.35 L347.66,50.45 L347.17,50.53 L346.69,50.62 L346.21,50.69 L345.73,50.76 L345.25,50.84 L344.77,50.9 L344.28,50.97 L343.8,51.04 L343.32,51.1 L342.84,51.17 L342.36,51.23 L341.88,51.29 L341.39,51.35 L340.91,51.41 L340.43,51.47 L339.95,51.53 L339.47,51.59 L338.99,51.64 L338.5,51.7 L338.02,51.75 L337.54,51.8 L337.06,51.86 L336.58,51.91 L336.1,51.96 L335.62,52.01 L335.13,52.06 L334.65,52.1 L334.17,52.15 L333.69,52.2 L333.21,52.24 L332.72,52.29 L332.24,52.33 L331.76,52.38 L331.28,52.42 L330.8,52.46 L330.32,52.5 L329.83,52.54 L329.35,52.58 L328.87,52.62 L328.39,52.66 L327.91,52.7 L327.43,52.74 L326.94,52.77 L326.46,52.81 L325.98,52.85 L325.5,52.88 L325.02,52.92 L324.54,52.95 L324.06,52.98 L323.57,53.02 L323.09,53.05 L322.61,53.08 L322.13,53.11 L321.65,53.14 L321.16,53.17 L320.68,53.2 L320.2,53.23 L319.72,53.26 L319.24,53.29 L318.76,53.31 L318.27,53.34 L317.79,53.37 L317.31,53.4 L316.83,53.42 L316.35,53.45 L315.87,53.47 L315.38,53.5 L314.9,53.52 L314.42,53.54 L313.94,53.57 L313.46,53.59 L312.98,53.61 L312.5,53.64 L312.01,53.66 L311.53,53.68 L311.05,53.7 L310.57,53.72 L310.09,53.74 L309.6,53.76 L309.12,53.78 L308.64,53.8 L308.16,53.82 L307.68,53.84 L307.2,53.86 L306.71,53.88 L306.23,53.9 L305.75,53.91 L305.27,53.93 L304.79,53.95 L304.31,53.96 L303.82,53.98 L303.34,54 L302.86,54.01 L302.38,54.03 L301.9,54.04 L301.42,54.06 L300.94,54.07 L300.45,54.09 L299.97,54.1 L299.49,54.12 L299.01,54.13 L298.53,54.15 L298.04,54.16 L297.56,54.17 L297.08,54.19 L296.6,54.2 L296.12,54.21 L295.64,54.22 L295.15,54.24 L294.67,54.25 L294.19,54.26 L293.71,54.27 L293.23,54.28 L292.75,54.29 L292.26,54.31 L291.78,54.32 L291.3,54.33 L290.82,54.34 L290.34,54.35 L289.86,54.36 L289.38,54.37 L288.89,54.38 L288.41,54.39 L287.93,54.4 L287.45,54.41 L286.97,54.42 L286.49,54.42 L286,54.43 L285.52,54.44 L285.04,54.45 L284.56,54.46 L284.08,54.47 L283.59,54.48 L283.11,54.48 L282.63,54.49 L282.15,54.5" fill="none" stroke="#701010" stroke-width="1.1" stroke-linejoin="round" stroke-linecap="round" />
<path d="M282.15,87.85 L282.63,87.85 L283.11,87.85 L283.59,87.85 L284.08,87.85 L284.56,87.84 L285.04,87.84 L285.52,87.84 L286,87.84 L286.48,87.84 L286.97,87.84 L287.45,87.84 L287.93,87.84 L288.41,87.84 L288.89,87.83 L289.38,87.83 L289.86,87.83 L290.34,87.83 L290.82,87.83 L291.3,87.83 L291.78,87.83 L292.26,87.83 L292.75,87.82 L293.23,87.82 L293.71,87.82 L294.19,87.82 L294.67,87.82 L295.15,87.82 L295.64,87.82 L296.12,87.81 L296.6,87.81 L297.08,87.81 L297.56,87.81 L298.04,87.81 L298.53,87.81 L299.01,87.81 L299.49,87.8 L299.97,87.8 L300.45,87.8 L300.93,87.8 L301.42,87.8 L301.9,87.8 L302.38,87.79 L302.86,87.79 L303.34,87.79 L303.82,87.79 L304.31,87.79 L304.79,87.79 L305.27,87.78 L305.75,87.78 L306.23,87.78 L306.71,87.78 L307.2,87.78 L307.68,87.78 L308.16,87.77 L308.64,87.77 L309.12,87.77 L309.6,87.77 L310.09,87.77 L310.57,87.76 L311.05,87.76 L311.53,87.76 L312.01,87.76 L312.5,87.76 L312.98,87.75 L313.46,87.75 L313.94,87.75 L314.42,87.75 L314.9,87.74 L315.38,87.74 L315.87,87.74 L316.35,87.74 L316.83,87.74 L317.31,87.73 L317.79,87.73 L318.27,87.73 L318.76,87.73 L319.24,87.72 L319.72,87.72 L320.2,87.72 L320.68,87.72 L321.16,87.71 L321.65,87.71 L322.13,87.71 L322.61,87.71 L323.09,87.7 L323.57,87.7 L324.05,87.7 L324.54,87.7 L325.02,87.69 L325.5,87.69 L325.98,87.69 L326.46,87.68 L326.94,87.68 L327.43,87.68 L327.91,87.68 L328.39,87.67 L328.87,87.67 L329.35,87.67 L329.83,87.66 L330.32,87.66 L330.8,87.66 L331.28,87.65 L331.76,87.65 L332.24,87.65 L332.72,87.64 L333.21,87.64 L333.69,87.64 L334.17,87.63 L334.65,87.63 L335.13,87.63 L335.62,87.62 L336.1,87.62 L336.58,87.62 L337.06,87.61 L337.54,87.61 L338.02,87.61 L338.5,87.6 L338.99,87.6 L339.47,87.59 L339.95,87.59 L340.43,87.59 L340.91,87.58 L341.39,87.58 L341.88,87.57 L342.36,87.57 L342.84,87.57 L343.32,87.56 L343.8,87.56 L344.28,87.55 L344.77,87.55 L345.25,87.54 L345.73,87.54 L346.21,87.53 L346.69,87.53 L347.17,87.53 L347.66,87.52 L348.14,87.52 L348.62,87.51 L349.1,87.51 L349.58,87.5 L350.06,87.5 L350.55,87.49 L351.03,87.49 L351.51,87.48 L351.99,87.48 L352.47,87.47 L352.95,87.46 L353.44,87.41 L353.92,87.18 L354.4,86.04 L354.88,81.49 L355.36,72.22 L355.84,65.87 L356.33,64.02 L356.81,63.62 L357.29,63.54 L357.77,63.51 L358.25,63.5 L358.73,63.48 L359.22,63.47 L359.7,63.46 L360.18,63.45 L360.66,63.43 L361.14,63.42 L361.62,63.41 L362.11,63.4 L362.59,63.39 L363.07,63.38 L363.55,63.37 L364.03,63.35 L364.51,63.34 L365,63.33 L365.48,63.32 L365.96,63.31 L366.44,63.3 L366.92,63.29 L367.4,63.28 L367.89,63.27 L368.37,63.26 L368.85,63.25 L369.33,63.24 L369.81,63.23 L370.29,63.22 L370.78,63.21 L371.26,63.2 L371.74,63.19 L372.22,63.18 L372.7,63.18 L373.18,63.17 L373.67,63.16 L374.15,63.15 L374.63,63.14 L375.11,63.13 L375.59,63.12 L376.07,63.11 L376.56,63.11 L377.04,63.1 L377.52,63.09 L378,63.08 L378.48,63.07 L378.96,63.07 L379.45,63.06 L379.93,63.05 L380.41,63.04 L380.89,63.04 L381.37,63.03 L381.85,63.02 L382.34,63.01 L382.82,63.01 L383.3,63 L383.78,62.99 L384.26,62.99 L384.74,62.98 L385.23,62.97 L385.71,62.97 L386.19,62.96 L386.67,62.95 L387.15,62.95 L387.63,62.94 L388.12,62.93 L388.6,62.93 L389.08,62.92 L389.56,62.91 L390.04,62.91 L390.52,62.9 L391.01,62.9 L391.49,62.89 L391.97,62.89 L392.45,62.88 L392.93,62.87 L393.41,62.87 L393.9,62.86 L394.38,62.86 L394.86,62.85 L395.34,62.85 L395.82,62.84 L396.3,62.84 L396.79,62.83 L397.27,62.83 L397.75,62.82 L398.23,62.82 L398.71,62.81 L399.19,62.81 L399.68,62.8 L400.16,62.8 L400.64,62.79 L401.12,62.79 L401.6,62.78 L402.08,62.78 L402.57,62.77 L403.05,62.77 L403.53,62.76 L404.01,62.76 L404.49,62.76 L404.97,62.75 L405.46,62.75 L405.94,62.74 L406.42,62.74 L406.9,62.73 L407.38,62.73 L407.86,62.73 L408.35,62.72 L408.83,62.72 L409.31,62.71 L409.79,62.71 L410.27,62.71 L410.75,62.7 L411.24,62.7 L411.72,62.7 L412.2,62.69 L412.68,62.69 L413.16,62.68 L413.64,62.68 L414.13,62.68 L414.61,62.67 L415.09,62.67 L415.57,62.67 L416.05,62.66 L416.53,62.66 L417.02,62.66 L417.5,62.65 L417.98,62.65 L418.46,62.65 L418.94,62.65 L419.42,62.64 L419.91,62.64 L420.39,62.64 L420.87,62.63 L421.35,62.63 L421.83,62.63 L422.31,62.62 L422.8,62.62 L423.28,62.62 L423.76,62.62 L424.24,62.61 L424.72,62.61 L425.2,62.61 L425.69,62.61 L426.17,62.6 L426.65,62.6" fill="none" stroke="#e02424" stroke-width="1.15" stroke-linejoin="round" stroke-linecap="round" />
<path d="M426.65,63.2 L426.17,63.2 L425.69,63.21 L425.2,63.21 L424.72,63.21 L424.24,63.21 L423.76,63.22 L423.28,63.22 L422.8,63.22 L422.31,63.22 L421.83,63.23 L421.35,63.23 L420.87,63.23 L420.39,63.24 L419.91,63.24 L419.42,63.24 L418.94,63.25 L418.46,63.25 L417.98,63.25 L417.5,63.25 L417.02,63.26 L416.53,63.26 L416.05,63.26 L415.57,63.27 L415.09,63.27 L414.61,63.27 L414.13,63.28 L413.64,63.28 L413.16,63.28 L412.68,63.29 L412.2,63.29 L411.72,63.3 L411.24,63.3 L410.75,63.3 L410.27,63.31 L409.79,63.31 L409.31,63.31 L408.83,63.32 L408.35,63.32 L407.87,63.33 L407.38,63.33 L406.9,63.33 L406.42,63.34 L405.94,63.34 L405.46,63.35 L404.97,63.35 L404.49,63.36 L404.01,63.36 L403.53,63.36 L403.05,63.37 L402.57,63.37 L402.08,63.38 L401.6,63.38 L401.12,63.39 L400.64,63.39 L400.16,63.4 L399.68,63.4 L399.19,63.41 L398.71,63.41 L398.23,63.42 L397.75,63.42 L397.27,63.43 L396.79,63.43 L396.3,63.44 L395.82,63.44 L395.34,63.45 L394.86,63.45 L394.38,63.46 L393.9,63.46 L393.41,63.47 L392.93,63.47 L392.45,63.48 L391.97,63.49 L391.49,63.49 L391.01,63.5 L390.52,63.5 L390.04,63.51 L389.56,63.51 L389.08,63.52 L388.6,63.53 L388.12,63.53 L387.63,63.54 L387.15,63.55 L386.67,63.55 L386.19,63.56 L385.71,63.57 L385.23,63.57 L384.75,63.58 L384.26,63.59 L383.78,63.59 L383.3,63.6 L382.82,63.61 L382.34,63.61 L381.85,63.62 L381.37,63.63 L380.89,63.64 L380.41,63.64 L379.93,63.65 L379.45,63.66 L378.96,63.67 L378.48,63.67 L378,63.68 L377.52,63.69 L377.04,63.7 L376.56,63.71 L376.07,63.71 L375.59,63.72 L375.11,63.73 L374.63,63.74 L374.15,63.75 L373.67,63.76 L373.18,63.77 L372.7,63.78 L372.22,63.78 L371.74,63.79 L371.26,63.8 L370.78,63.81 L370.29,63.82 L369.81,63.83 L369.33,63.84 L368.85,63.85 L368.37,63.86 L367.89,63.87 L367.4,63.88 L366.92,63.89 L366.44,63.9 L365.96,63.91 L365.48,63.92 L365,63.93 L364.51,63.94 L364.03,63.95 L363.55,63.97 L363.07,63.98 L362.59,63.99 L362.11,64 L361.62,64.01 L361.14,64.02 L360.66,64.03 L360.18,64.05 L359.7,64.06 L359.22,64.07 L358.73,64.08 L358.25,64.1 L357.77,64.11 L357.29,64.12 L356.81,64.13 L356.33,64.15 L355.84,64.16 L355.36,64.18 L354.88,64.2 L354.4,64.29 L353.92,64.66 L353.44,66.41 L352.95,72.33 L352.47,80.82 L351.99,84.92 L351.51,85.93 L351.03,86.14 L350.55,86.18 L350.06,86.2 L349.58,86.2 L349.1,86.21 L348.62,86.21 L348.14,86.22 L347.66,86.22 L347.17,86.23 L346.69,86.23 L346.21,86.23 L345.73,86.24 L345.25,86.24 L344.77,86.25 L344.28,86.25 L343.8,86.26 L343.32,86.26 L342.84,86.27 L342.36,86.27 L341.88,86.27 L341.39,86.28 L340.91,86.28 L340.43,86.29 L339.95,86.29 L339.47,86.29 L338.99,86.3 L338.5,86.3 L338.02,86.31 L337.54,86.31 L337.06,86.31 L336.58,86.32 L336.1,86.32 L335.62,86.32 L335.13,86.33 L334.65,86.33 L334.17,86.33 L333.69,86.34 L333.21,86.34 L332.72,86.34 L332.24,86.35 L331.76,86.35 L331.28,86.35 L330.8,86.36 L330.32,86.36 L329.83,86.36 L329.35,86.37 L328.87,86.37 L328.39,86.37 L327.91,86.38 L327.43,86.38 L326.94,86.38 L326.46,86.38 L325.98,86.39 L325.5,86.39 L325.02,86.39 L324.54,86.4 L324.06,86.4 L323.57,86.4 L323.09,86.4 L322.61,86.41 L322.13,86.41 L321.65,86.41 L321.16,86.41 L320.68,86.42 L320.2,86.42 L319.72,86.42 L319.24,86.42 L318.76,86.43 L318.27,86.43 L317.79,86.43 L317.31,86.43 L316.83,86.44 L316.35,86.44 L315.87,86.44 L315.38,86.44 L314.9,86.44 L314.42,86.45 L313.94,86.45 L313.46,86.45 L312.98,86.45 L312.5,86.46 L312.01,86.46 L311.53,86.46 L311.05,86.46 L310.57,86.46 L310.09,86.47 L309.6,86.47 L309.12,86.47 L308.64,86.47 L308.16,86.47 L307.68,86.48 L307.2,86.48 L306.71,86.48 L306.23,86.48 L305.75,86.48 L305.27,86.48 L304.79,86.49 L304.31,86.49 L303.82,86.49 L303.34,86.49 L302.86,86.49 L302.38,86.49 L301.9,86.5 L301.42,86.5 L300.94,86.5 L300.45,86.5 L299.97,86.5 L299.49,86.5 L299.01,86.51 L298.53,86.51 L298.04,86.51 L297.56,86.51 L297.08,86.51 L296.6,86.51 L296.12,86.51 L295.64,86.52 L295.15,86.52 L294.67,86.52 L294.19,86.52 L293.71,86.52 L293.23,86.52 L292.75,86.52 L292.26,86.53 L291.78,86.53 L291.3,86.53 L290.82,86.53 L290.34,86.53 L289.86,86.53 L289.38,86.53 L288.89,86.53 L288.41,86.54 L287.93,86.54 L287.45,86.54 L286.97,86.54 L286.49,86.54 L286,86.54 L285.52,86.54 L285.04,86.54 L284.56,86.54 L284.08,86.55 L283.59,86.55 L283.11,86.55 L282.63,86.55 L282.15,86.55" fill="none" stroke="#8c1010" stroke-width="1.1" stroke-linejoin="round" stroke-linecap="round" />
<path d="M282.15,125.4 L282.63,125.39 L283.11,125.39 L283.59,125.38 L284.08,125.38 L284.56,125.37 L285.04,125.36 L285.52,125.36 L286,125.35 L286.48,125.34 L286.97,125.34 L287.45,125.33 L287.93,125.32 L288.41,125.32 L288.89,125.31 L289.38,125.3 L289.86,125.3 L290.34,125.29 L290.82,125.28 L291.3,125.27 L291.78,125.27 L292.26,125.26 L292.75,125.25 L293.23,125.24 L293.71,125.24 L294.19,125.23 L294.67,125.22 L295.15,125.21 L295.64,125.2 L296.12,125.2 L296.6,125.19 L297.08,125.18 L297.56,125.17 L298.04,125.16 L298.53,125.15 L299.01,125.15 L299.49,125.14 L299.97,125.13 L300.45,125.12 L300.93,125.11 L301.42,125.1 L301.9,125.09 L302.38,125.08 L302.86,125.07 L303.34,125.06 L303.82,125.05 L304.31,125.04 L304.79,125.03 L305.27,125.02 L305.75,125.01 L306.23,125 L306.71,124.99 L307.2,124.98 L307.68,124.97 L308.16,124.96 L308.64,124.95 L309.12,124.94 L309.6,124.93 L310.09,124.92 L310.57,124.9 L311.05,124.89 L311.53,124.88 L312.01,124.87 L312.5,124.86 L312.98,124.85 L313.46,124.83 L313.94,124.82 L314.42,124.81 L314.9,124.8 L315.38,124.78 L315.87,124.77 L316.35,124.76 L316.83,124.74 L317.31,124.73 L317.79,124.72 L318.27,124.7 L318.76,124.69 L319.24,124.68 L319.72,124.66 L320.2,124.65 L320.68,124.63 L321.16,124.62 L321.65,124.6 L322.13,124.59 L322.61,124.57 L323.09,124.56 L323.57,124.54 L324.05,124.53 L324.54,124.51 L325.02,124.5 L325.5,124.48 L325.98,124.46 L326.46,124.45 L326.94,124.43 L327.43,124.41 L327.91,124.4 L328.39,124.38 L328.87,124.36 L329.35,124.34 L329.83,124.33 L330.32,124.31 L330.8,124.29 L331.28,124.27 L331.76,124.25 L332.24,124.23 L332.72,124.22 L333.21,124.2 L333.69,124.18 L334.17,124.16 L334.65,124.14 L335.13,124.12 L335.62,124.1 L336.1,124.08 L336.58,124.06 L337.06,124.03 L337.54,124.01 L338.02,123.99 L338.5,123.97 L338.99,123.95 L339.47,123.93 L339.95,123.9 L340.43,123.88 L340.91,123.86 L341.39,123.83 L341.88,123.81 L342.36,123.79 L342.84,123.76 L343.32,123.74 L343.8,123.71 L344.28,123.69 L344.77,123.67 L345.25,123.64 L345.73,123.61 L346.21,123.59 L346.69,123.56 L347.17,123.54 L347.66,123.51 L348.14,123.48 L348.62,123.45 L349.1,123.43 L349.58,123.4 L350.06,123.37 L350.55,123.34 L351.03,123.31 L351.51,123.28 L351.99,123.25 L352.47,123.22 L352.95,123.18 L353.44,123.12 L353.92,123.01 L354.4,122.73 L354.88,121.96 L355.36,119.9 L355.84,115.13 L356.33,107.33 L356.81,99.78 L357.29,95.39 L357.77,93.55 L358.25,92.88 L358.73,92.65 L359.22,92.55 L359.7,92.51 L360.18,92.49 L360.66,92.47 L361.14,92.45 L361.62,92.44 L362.11,92.42 L362.59,92.4 L363.07,92.39 L363.55,92.37 L364.03,92.36 L364.51,92.34 L365,92.33 L365.48,92.31 L365.96,92.3 L366.44,92.28 L366.92,92.27 L367.4,92.25 L367.89,92.24 L368.37,92.22 L368.85,92.21 L369.33,92.2 L369.81,92.18 L370.29,92.17 L370.78,92.16 L371.26,92.14 L371.74,92.13 L372.22,92.12 L372.7,92.11 L373.18,92.09 L373.67,92.08 L374.15,92.07 L374.63,92.06 L375.11,92.04 L375.59,92.03 L376.07,92.02 L376.56,92.01 L377.04,92 L377.52,91.99 L378,91.98 L378.48,91.96 L378.96,91.95 L379.45,91.94 L379.93,91.93 L380.41,91.92 L380.89,91.91 L381.37,91.9 L381.85,91.89 L382.34,91.88 L382.82,91.87 L383.3,91.86 L383.78,91.85 L384.26,91.84 L384.74,91.83 L385.23,91.82 L385.71,91.81 L386.19,91.8 L386.67,91.79 L387.15,91.78 L387.63,91.78 L388.12,91.77 L388.6,91.76 L389.08,91.75 L389.56,91.74 L390.04,91.73 L390.52,91.72 L391.01,91.72 L391.49,91.71 L391.97,91.7 L392.45,91.69 L392.93,91.68 L393.41,91.68 L393.9,91.67 L394.38,91.66 L394.86,91.65 L395.34,91.65 L395.82,91.64 L396.3,91.63 L396.79,91.62 L397.27,91.62 L397.75,91.61 L398.23,91.6 L398.71,91.6 L399.19,91.59 L399.68,91.58 L400.16,91.57 L400.64,91.57 L401.12,91.56 L401.6,91.55 L402.08,91.55 L402.57,91.54 L403.05,91.54 L403.53,91.53 L404.01,91.52 L404.49,91.52 L404.97,91.51 L405.46,91.51 L405.94,91.5 L406.42,91.49 L406.9,91.49 L407.38,91.48 L407.86,91.48 L408.35,91.47 L408.83,91.47 L409.31,91.46 L409.79,91.45 L410.27,91.45 L410.75,91.44 L411.24,91.44 L411.72,91.43 L412.2,91.43 L412.68,91.42 L413.16,91.42 L413.64,91.41 L414.13,91.41 L414.61,91.4 L415.09,91.4 L415.57,91.39 L416.05,91.39 L416.53,91.39 L417.02,91.38 L417.5,91.38 L417.98,91.37 L418.46,91.37 L418.94,91.36 L419.42,91.36 L419.91,91.35 L420.39,91.35 L420.87,91.35 L421.35,91.34 L421.83,91.34 L422.31,91.33 L422.8,91.33 L423.28,91.33 L423.76,91.32 L424.24,91.32 L424.72,91.31 L425.2,91.31 L425.69,91.31 L426.17,91.3 L426.65,91.3" fill="none" stroke="#e43030" stroke-width="1.15" stroke-linejoin="round" stroke-linecap="round" />
<path d="M426.65,91.9 L426.17,91.9 L425.69,91.91 L425.2,91.91 L424.72,91.91 L424.24,91.92 L423.76,91.92 L423.28,91.93 L422.8,91.93 L422.31,91.93 L421.83,91.94 L421.35,91.94 L420.87,91.95 L420.39,91.95 L419.91,91.95 L419.42,91.96 L418.94,91.96 L418.46,91.97 L417.98,91.97 L417.5,91.98 L417.02,91.98 L416.53,91.99 L416.05,91.99 L415.57,91.99 L415.09,92 L414.61,92 L414.13,92.01 L413.64,92.01 L413.16,92.02 L412.68,92.02 L412.2,92.03 L411.72,92.03 L411.24,92.04 L410.75,92.04 L410.27,92.05 L409.79,92.05 L409.31,92.06 L408.83,92.07 L408.35,92.07 L407.87,92.08 L407.38,92.08 L406.9,92.09 L406.42,92.09 L405.94,92.1 L405.46,92.11 L404.97,92.11 L404.49,92.12 L404.01,92.12 L403.53,92.13 L403.05,92.14 L402.57,92.14 L402.08,92.15 L401.6,92.15 L401.12,92.16 L400.64,92.17 L400.16,92.17 L399.68,92.18 L399.19,92.19 L398.71,92.2 L398.23,92.2 L397.75,92.21 L397.27,92.22 L396.79,92.22 L396.3,92.23 L395.82,92.24 L395.34,92.25 L394.86,92.25 L394.38,92.26 L393.9,92.27 L393.41,92.28 L392.93,92.28 L392.45,92.29 L391.97,92.3 L391.49,92.31 L391.01,92.32 L390.52,92.32 L390.04,92.33 L389.56,92.34 L389.08,92.35 L388.6,92.36 L388.12,92.37 L387.63,92.38 L387.15,92.38 L386.67,92.39 L386.19,92.4 L385.71,92.41 L385.23,92.42 L384.75,92.43 L384.26,92.44 L383.78,92.45 L383.3,92.46 L382.82,92.47 L382.34,92.48 L381.85,92.49 L381.37,92.5 L380.89,92.51 L380.41,92.52 L379.93,92.53 L379.45,92.54 L378.96,92.55 L378.48,92.56 L378,92.58 L377.52,92.59 L377.04,92.6 L376.56,92.61 L376.07,92.62 L375.59,92.63 L375.11,92.64 L374.63,92.66 L374.15,92.67 L373.67,92.68 L373.18,92.69 L372.7,92.71 L372.22,92.72 L371.74,92.73 L371.26,92.74 L370.78,92.76 L370.29,92.77 L369.81,92.78 L369.33,92.8 L368.85,92.81 L368.37,92.82 L367.89,92.84 L367.4,92.85 L366.92,92.87 L366.44,92.88 L365.96,92.9 L365.48,92.91 L365,92.93 L364.51,92.94 L364.03,92.96 L363.55,92.97 L363.07,92.99 L362.59,93 L362.11,93.02 L361.62,93.04 L361.14,93.05 L360.66,93.07 L360.18,93.08 L359.7,93.1 L359.22,93.12 L358.73,93.14 L358.25,93.15 L357.77,93.17 L357.29,93.19 L356.81,93.21 L356.33,93.23 L355.84,93.24 L355.36,93.26 L354.88,93.28 L354.4,93.31 L353.92,93.35 L353.44,93.42 L352.95,93.6 L352.47,94.09 L351.99,95.46 L351.51,98.86 L351.03,105.24 L350.55,112.65 L350.06,117.65 L349.58,119.93 L349.1,120.8 L348.62,121.11 L348.14,121.23 L347.66,121.29 L347.17,121.33 L346.69,121.36 L346.21,121.39 L345.73,121.41 L345.25,121.44 L344.77,121.47 L344.28,121.49 L343.8,121.51 L343.32,121.54 L342.84,121.56 L342.36,121.59 L341.88,121.61 L341.39,121.63 L340.91,121.66 L340.43,121.68 L339.95,121.7 L339.47,121.73 L338.99,121.75 L338.5,121.77 L338.02,121.79 L337.54,121.81 L337.06,121.83 L336.58,121.86 L336.1,121.88 L335.62,121.9 L335.13,121.92 L334.65,121.94 L334.17,121.96 L333.69,121.98 L333.21,122 L332.72,122.02 L332.24,122.03 L331.76,122.05 L331.28,122.07 L330.8,122.09 L330.32,122.11 L329.83,122.13 L329.35,122.14 L328.87,122.16 L328.39,122.18 L327.91,122.2 L327.43,122.21 L326.94,122.23 L326.46,122.25 L325.98,122.26 L325.5,122.28 L325.02,122.3 L324.54,122.31 L324.06,122.33 L323.57,122.34 L323.09,122.36 L322.61,122.37 L322.13,122.39 L321.65,122.4 L321.16,122.42 L320.68,122.43 L320.2,122.45 L319.72,122.46 L319.24,122.48 L318.76,122.49 L318.27,122.5 L317.79,122.52 L317.31,122.53 L316.83,122.54 L316.35,122.56 L315.87,122.57 L315.38,122.58 L314.9,122.6 L314.42,122.61 L313.94,122.62 L313.46,122.63 L312.98,122.65 L312.5,122.66 L312.01,122.67 L311.53,122.68 L311.05,122.69 L310.57,122.7 L310.09,122.72 L309.6,122.73 L309.12,122.74 L308.64,122.75 L308.16,122.76 L307.68,122.77 L307.2,122.78 L306.71,122.79 L306.23,122.8 L305.75,122.81 L305.27,122.82 L304.79,122.83 L304.31,122.84 L303.82,122.85 L303.34,122.86 L302.86,122.87 L302.38,122.88 L301.9,122.89 L301.42,122.9 L300.94,122.91 L300.45,122.92 L299.97,122.93 L299.49,122.94 L299.01,122.95 L298.53,122.95 L298.04,122.96 L297.56,122.97 L297.08,122.98 L296.6,122.99 L296.12,123 L295.64,123 L295.15,123.01 L294.67,123.02 L294.19,123.03 L293.71,123.04 L293.23,123.04 L292.75,123.05 L292.26,123.06 L291.78,123.07 L291.3,123.07 L290.82,123.08 L290.34,123.09 L289.86,123.1 L289.38,123.1 L288.89,123.11 L288.41,123.12 L287.93,123.12 L287.45,123.13 L286.97,123.14 L286.49,123.14 L286,123.15 L285.52,123.16 L285.04,123.16 L284.56,123.17 L284.08,123.18 L283.59,123.18 L283.11,123.19 L282.63,123.19 L282.15,123.2" fill="none" stroke="#a81818" stroke-width="1.1" stroke-linejoin="round" stroke-linecap="round" />
<path d="M282.15,158.8 L282.63,158.79 L283.11,158.78 L283.59,158.78 L284.08,158.77 L284.56,158.76 L285.04,158.75 L285.52,158.75 L286,158.74 L286.48,158.73 L286.97,158.72 L287.45,158.71 L287.93,158.7 L288.41,158.7 L288.89,158.69 L289.38,158.68 L289.86,158.67 L290.34,158.66 L290.82,158.65 L291.3,158.64 L291.78,158.63 L292.26,158.62 L292.75,158.61 L293.23,158.6 L293.71,158.59 L294.19,158.58 L294.67,158.57 L295.15,158.56 L295.64,158.55 L296.12,158.54 L296.6,158.53 L297.08,158.52 L297.56,158.51 L298.04,158.5 L298.53,158.49 L299.01,158.48 L299.49,158.47 L299.97,158.46 L300.45,158.45 L300.93,158.43 L301.42,158.42 L301.9,158.41 L302.38,158.4 L302.86,158.39 L303.34,158.37 L303.82,158.36 L304.31,158.35 L304.79,158.34 L305.27,158.32 L305.75,158.31 L306.23,158.3 L306.71,158.29 L307.2,158.27 L307.68,158.26 L308.16,158.24 L308.64,158.23 L309.12,158.22 L309.6,158.2 L310.09,158.19 L310.57,158.17 L311.05,158.16 L311.53,158.15 L312.01,158.13 L312.5,158.12 L312.98,158.1 L313.46,158.08 L313.94,158.07 L314.42,158.05 L314.9,158.04 L315.38,158.02 L315.87,158.01 L316.35,157.99 L316.83,157.97 L317.31,157.96 L317.79,157.94 L318.27,157.92 L318.76,157.9 L319.24,157.89 L319.72,157.87 L320.2,157.85 L320.68,157.83 L321.16,157.81 L321.65,157.8 L322.13,157.78 L322.61,157.76 L323.09,157.74 L323.57,157.72 L324.05,157.7 L324.54,157.68 L325.02,157.66 L325.5,157.64 L325.98,157.62 L326.46,157.6 L326.94,157.58 L327.43,157.56 L327.91,157.53 L328.39,157.51 L328.87,157.49 L329.35,157.47 L329.83,157.45 L330.32,157.42 L330.8,157.4 L331.28,157.38 L331.76,157.35 L332.24,157.33 L332.72,157.31 L333.21,157.28 L333.69,157.26 L334.17,157.23 L334.65,157.21 L335.13,157.18 L335.62,157.16 L336.1,157.13 L336.58,157.11 L337.06,157.08 L337.54,157.05 L338.02,157.02 L338.5,157 L338.99,156.97 L339.47,156.94 L339.95,156.91 L340.43,156.88 L340.91,156.86 L341.39,156.83 L341.88,156.8 L342.36,156.77 L342.84,156.74 L343.32,156.71 L343.8,156.68 L344.28,156.64 L344.77,156.61 L345.25,156.58 L345.73,156.55 L346.21,156.52 L346.69,156.48 L347.17,156.45 L347.66,156.42 L348.14,156.38 L348.62,156.35 L349.1,156.31 L349.58,156.2 L350.06,155.77 L350.55,155.41 L351.03,155.8 L351.51,156.08 L351.99,156.09 L352.47,156.06 L352.95,156.02 L353.44,155.98 L353.92,155.94 L354.4,155.9 L354.88,155.86 L355.36,155.82 L355.84,155.78 L356.33,155.73 L356.81,155.68 L357.29,155.59 L357.77,155.43 L358.25,155.02 L358.73,153.92 L359.22,151.06 L359.7,145.01 L360.18,136.54 L360.66,129.67 L361.14,126.15 L361.62,124.77 L362.11,124.28 L362.59,124.1 L363.07,124.04 L363.55,124 L364.03,123.98 L364.51,123.97 L365,123.95 L365.48,123.94 L365.96,123.92 L366.44,123.91 L366.92,123.9 L367.4,123.88 L367.89,123.87 L368.37,123.86 L368.85,123.85 L369.33,123.83 L369.81,123.82 L370.29,123.81 L370.78,123.8 L371.26,123.78 L371.74,123.77 L372.22,123.76 L372.7,123.75 L373.18,123.74 L373.67,123.72 L374.15,123.71 L374.63,123.7 L375.11,123.69 L375.59,123.68 L376.07,123.67 L376.56,123.66 L377.04,123.65 L377.52,123.64 L378,123.63 L378.48,123.62 L378.96,123.61 L379.45,123.6 L379.93,123.59 L380.41,123.58 L380.89,123.57 L381.37,123.56 L381.85,123.55 L382.34,123.54 L382.82,123.53 L383.3,123.52 L383.78,123.51 L384.26,123.5 L384.74,123.49 L385.23,123.48 L385.71,123.48 L386.19,123.47 L386.67,123.46 L387.15,123.45 L387.63,123.44 L388.12,123.43 L388.6,123.43 L389.08,123.42 L389.56,123.41 L390.04,123.4 L390.52,123.39 L391.01,123.39 L391.49,123.38 L391.97,123.37 L392.45,123.36 L392.93,123.36 L393.41,123.35 L393.9,123.34 L394.38,123.33 L394.86,123.33 L395.34,123.32 L395.82,123.31 L396.3,123.31 L396.79,123.3 L397.27,123.29 L397.75,123.29 L398.23,123.28 L398.71,123.27 L399.19,123.27 L399.68,123.26 L400.16,123.26 L400.64,123.25 L401.12,123.24 L401.6,123.24 L402.08,123.23 L402.57,123.22 L403.05,123.22 L403.53,123.21 L404.01,123.21 L404.49,123.2 L404.97,123.2 L405.46,123.19 L405.94,123.19 L406.42,123.18 L406.9,123.17 L407.38,123.17 L407.86,123.16 L408.35,123.16 L408.83,123.15 L409.31,123.15 L409.79,123.14 L410.27,123.14 L410.75,123.13 L411.24,123.13 L411.72,123.12 L412.2,123.12 L412.68,123.12 L413.16,123.11 L413.64,123.11 L414.13,123.1 L414.61,123.1 L415.09,123.09 L415.57,123.09 L416.05,123.08 L416.53,123.08 L417.02,123.08 L417.5,123.07 L417.98,123.07 L418.46,123.06 L418.94,123.06 L419.42,123.05 L419.91,123.05 L420.39,123.05 L420.87,123.04 L421.35,123.04 L421.83,123.04 L422.31,123.03 L422.8,123.03 L423.28,123.02 L423.76,123.02 L424.24,123.02 L424.72,123.01 L425.2,123.01 L425.69,123.01 L426.17,123 L426.65,123" fill="none" stroke="#f09030" stroke-width="1.15" stroke-linejoin="round" stroke-linecap="round" />
<path d="M426.65,123.6 L426.17,123.6 L425.69,123.61 L425.2,123.61 L424.72,123.61 L424.24,123.62 L423.76,123.62 L423.28,123.62 L422.8,123.63 L422.31,123.63 L421.83,123.64 L421.35,123.64 L420.87,123.64 L420.39,123.65 L419.91,123.65 L419.42,123.65 L418.94,123.66 L418.46,123.66 L417.98,123.67 L417.5,123.67 L417.02,123.68 L416.53,123.68 L416.05,123.68 L415.57,123.69 L415.09,123.69 L414.61,123.7 L414.13,123.7 L413.64,123.71 L413.16,123.71 L412.68,123.72 L412.2,123.72 L411.72,123.72 L411.24,123.73 L410.75,123.73 L410.27,123.74 L409.79,123.74 L409.31,123.75 L408.83,123.75 L408.35,123.76 L407.87,123.76 L407.38,123.77 L406.9,123.77 L406.42,123.78 L405.94,123.79 L405.46,123.79 L404.97,123.8 L404.49,123.8 L404.01,123.81 L403.53,123.81 L403.05,123.82 L402.57,123.82 L402.08,123.83 L401.6,123.84 L401.12,123.84 L400.64,123.85 L400.16,123.86 L399.68,123.86 L399.19,123.87 L398.71,123.87 L398.23,123.88 L397.75,123.89 L397.27,123.89 L396.79,123.9 L396.3,123.91 L395.82,123.91 L395.34,123.92 L394.86,123.93 L394.38,123.93 L393.9,123.94 L393.41,123.95 L392.93,123.96 L392.45,123.96 L391.97,123.97 L391.49,123.98 L391.01,123.99 L390.52,123.99 L390.04,124 L389.56,124.01 L389.08,124.02 L388.6,124.03 L388.12,124.03 L387.63,124.04 L387.15,124.05 L386.67,124.06 L386.19,124.07 L385.71,124.08 L385.23,124.08 L384.75,124.09 L384.26,124.1 L383.78,124.11 L383.3,124.12 L382.82,124.13 L382.34,124.14 L381.85,124.15 L381.37,124.16 L380.89,124.16 L380.41,124.1 L379.93,123.71 L379.45,123.4 L378.96,123.85 L378.48,124.17 L378,124.23 L377.52,124.24 L377.04,124.25 L376.56,124.26 L376.07,124.27 L375.59,124.28 L375.11,124.29 L374.63,124.3 L374.15,124.31 L373.67,124.32 L373.18,124.34 L372.7,124.35 L372.22,124.36 L371.74,124.37 L371.26,124.38 L370.78,124.4 L370.29,124.41 L369.81,124.42 L369.33,124.43 L368.85,124.45 L368.37,124.46 L367.89,124.47 L367.4,124.48 L366.92,124.5 L366.44,124.51 L365.96,124.52 L365.48,124.54 L365,124.55 L364.51,124.57 L364.03,124.58 L363.55,124.59 L363.07,124.61 L362.59,124.62 L362.11,124.64 L361.62,124.65 L361.14,124.67 L360.66,124.68 L360.18,124.7 L359.7,124.72 L359.22,124.73 L358.73,124.75 L358.25,124.76 L357.77,124.78 L357.29,124.8 L356.81,124.81 L356.33,124.83 L355.84,124.85 L355.36,124.86 L354.88,124.88 L354.4,124.9 L353.92,124.92 L353.44,124.94 L352.95,124.95 L352.47,124.97 L351.99,124.99 L351.51,125.02 L351.03,125.05 L350.55,125.1 L350.06,125.23 L349.58,125.58 L349.1,126.55 L348.62,129.12 L348.14,134.71 L347.66,142.89 L347.17,149.82 L346.69,153.48 L346.21,154.95 L345.73,155.49 L345.25,155.7 L344.77,155.78 L344.28,155.83 L343.8,155.87 L343.32,155.91 L342.84,155.94 L342.36,155.97 L341.88,156 L341.39,156.03 L340.91,156.06 L340.43,156.08 L339.95,156.11 L339.47,156.14 L338.99,156.17 L338.5,156.2 L338.02,156.22 L337.54,156.25 L337.06,156.28 L336.58,156.31 L336.1,156.33 L335.62,156.36 L335.13,156.38 L334.65,156.41 L334.17,156.43 L333.69,156.46 L333.21,156.48 L332.72,156.51 L332.24,156.53 L331.76,156.55 L331.28,156.58 L330.8,156.6 L330.32,156.62 L329.83,156.65 L329.35,156.67 L328.87,156.69 L328.39,156.71 L327.91,156.73 L327.43,156.76 L326.94,156.78 L326.46,156.8 L325.98,156.82 L325.5,156.84 L325.02,156.86 L324.54,156.88 L324.06,156.9 L323.57,156.92 L323.09,156.94 L322.61,156.96 L322.13,156.98 L321.65,157 L321.16,157.01 L320.68,157.03 L320.2,157.05 L319.72,157.07 L319.24,157.09 L318.76,157.1 L318.27,157.12 L317.79,157.14 L317.31,157.16 L316.83,157.17 L316.35,157.19 L315.87,157.21 L315.38,157.22 L314.9,157.24 L314.42,157.25 L313.94,157.27 L313.46,157.28 L312.98,157.3 L312.5,157.32 L312.01,157.33 L311.53,157.35 L311.05,157.36 L310.57,157.37 L310.09,157.39 L309.6,157.4 L309.12,157.42 L308.64,157.43 L308.16,157.44 L307.68,157.46 L307.2,157.47 L306.71,157.49 L306.23,157.5 L305.75,157.51 L305.27,157.52 L304.79,157.54 L304.31,157.55 L303.82,157.56 L303.34,157.57 L302.86,157.59 L302.38,157.6 L301.9,157.61 L301.42,157.62 L300.94,157.63 L300.45,157.65 L299.97,157.66 L299.49,157.67 L299.01,157.68 L298.53,157.69 L298.04,157.7 L297.56,157.71 L297.08,157.72 L296.6,157.73 L296.12,157.74 L295.64,157.75 L295.15,157.76 L294.67,157.77 L294.19,157.78 L293.71,157.79 L293.23,157.8 L292.75,157.81 L292.26,157.82 L291.78,157.83 L291.3,157.84 L290.82,157.85 L290.34,157.86 L289.86,157.87 L289.38,157.88 L288.89,157.89 L288.41,157.9 L287.93,157.9 L287.45,157.91 L286.97,157.92 L286.49,157.93 L286,157.94 L285.52,157.95 L285.04,157.95 L284.56,157.96 L284.08,157.97 L283.59,157.98 L283.11,157.98 L282.63,157.99 L282.15,158" fill="none" stroke="#c85820" stroke-width="1.1" stroke-linejoin="round" stroke-linecap="round" />
<path d="M282.15,194.8 L282.63,194.79 L283.11,194.78 L283.59,194.77 L284.08,194.75 L284.56,194.74 L285.04,194.73 L285.52,194.72 L286,194.71 L286.48,194.69 L286.97,194.68 L287.45,194.67 L287.93,194.66 L288.41,194.64 L288.89,194.63 L289.38,194.62 L289.86,194.61 L290.34,194.59 L290.82,194.58 L291.3,194.56 L291.78,194.55 L292.26,194.54 L292.75,194.52 L293.23,194.51 L293.71,194.49 L294.19,194.48 L294.67,194.46 L295.15,194.45 L295.64,194.43 L296.12,194.42 L296.6,194.4 L297.08,194.39 L297.56,194.37 L298.04,194.36 L298.53,194.34 L299.01,194.32 L299.49,194.31 L299.97,194.29 L300.45,194.27 L300.93,194.26 L301.42,194.24 L301.9,194.22 L302.38,194.2 L302.86,194.19 L303.34,194.17 L303.82,194.15 L304.31,194.13 L304.79,194.11 L305.27,194.09 L305.75,194.08 L306.23,194.06 L306.71,194.04 L307.2,194.02 L307.68,194 L308.16,193.98 L308.64,193.96 L309.12,193.94 L309.6,193.91 L310.09,193.89 L310.57,193.87 L311.05,193.85 L311.53,193.83 L312.01,193.81 L312.5,193.78 L312.98,193.76 L313.46,193.74 L313.94,193.72 L314.42,193.69 L314.9,193.67 L315.38,193.65 L315.87,193.62 L316.35,193.6 L316.83,193.57 L317.31,193.55 L317.79,193.52 L318.27,193.5 L318.76,193.47 L319.24,193.45 L319.72,193.42 L320.2,193.39 L320.68,193.37 L321.16,193.34 L321.65,193.31 L322.13,193.28 L322.61,193.26 L323.09,193.23 L323.57,193.2 L324.05,193.17 L324.54,193.14 L325.02,193.11 L325.5,193.08 L325.98,193.05 L326.46,193.02 L326.94,192.99 L327.43,192.96 L327.91,192.92 L328.39,192.89 L328.87,192.86 L329.35,192.83 L329.83,192.79 L330.32,192.76 L330.8,192.73 L331.28,192.69 L331.76,192.66 L332.24,192.62 L332.72,192.59 L333.21,192.55 L333.69,192.51 L334.17,192.48 L334.65,192.44 L335.13,192.4 L335.62,192.36 L336.1,192.33 L336.58,192.29 L337.06,192.25 L337.54,192.21 L338.02,192.17 L338.5,192.13 L338.99,192.09 L339.47,192.04 L339.95,192 L340.43,191.96 L340.91,191.92 L341.39,191.87 L341.88,191.83 L342.36,191.79 L342.84,191.74 L343.32,191.7 L343.8,191.65 L344.28,191.6 L344.77,191.56 L345.25,191.51 L345.73,191.46 L346.21,191.41 L346.69,191.36 L347.17,191.31 L347.66,191.26 L348.14,191.21 L348.62,191.16 L349.1,191.11 L349.58,191.06 L350.06,191 L350.55,190.95 L351.03,190.9 L351.51,190.84 L351.99,190.79 L352.47,190.73 L352.95,190.67 L353.44,190.62 L353.92,190.56 L354.4,190.5 L354.88,190.44 L355.36,190.38 L355.84,190.32 L356.33,190.26 L356.81,190.2 L357.29,190.13 L357.77,190.07 L358.25,190 L358.73,189.93 L359.22,189.84 L359.7,189.7 L360.18,189.41 L360.66,188.67 L361.14,186.73 L361.62,182.03 L362.11,173.5 L362.59,164.02 L363.07,157.86 L363.55,155.11 L364.03,154.07 L364.51,153.7 L365,153.55 L365.48,153.48 L365.96,153.44 L366.44,153.4 L366.92,153.37 L367.4,153.34 L367.89,153.31 L368.37,153.28 L368.85,153.25 L369.33,153.22 L369.81,153.19 L370.29,153.16 L370.78,153.14 L371.26,153.11 L371.74,153.08 L372.22,153.05 L372.7,153.03 L373.18,153 L373.67,152.97 L374.15,152.95 L374.63,152.92 L375.11,152.9 L375.59,152.87 L376.07,152.84 L376.56,152.82 L377.04,152.8 L377.52,152.77 L378,152.75 L378.48,152.72 L378.96,152.7 L379.45,152.68 L379.93,152.65 L380.41,152.63 L380.89,152.61 L381.37,152.59 L381.85,152.56 L382.34,152.54 L382.82,152.52 L383.3,152.5 L383.78,152.48 L384.26,152.46 L384.74,152.44 L385.23,152.42 L385.71,152.4 L386.19,152.38 L386.67,152.36 L387.15,152.34 L387.63,152.32 L388.12,152.3 L388.6,152.28 L389.08,152.26 L389.56,152.24 L390.04,152.23 L390.52,152.21 L391.01,152.19 L391.49,152.17 L391.97,152.16 L392.45,152.14 L392.93,152.12 L393.41,152.11 L393.9,152.09 L394.38,152.07 L394.86,152.06 L395.34,152.04 L395.82,152.02 L396.3,152.01 L396.79,151.99 L397.27,151.98 L397.75,151.96 L398.23,151.95 L398.71,151.93 L399.19,151.92 L399.68,151.9 L400.16,151.89 L400.64,151.87 L401.12,151.86 L401.6,151.85 L402.08,151.83 L402.57,151.82 L403.05,151.81 L403.53,151.79 L404.01,151.78 L404.49,151.77 L404.97,151.75 L405.46,151.74 L405.94,151.73 L406.42,151.72 L406.9,151.7 L407.38,151.69 L407.86,151.68 L408.35,151.67 L408.83,151.66 L409.31,151.64 L409.79,151.63 L410.27,151.62 L410.75,151.61 L411.24,151.6 L411.72,151.59 L412.2,151.58 L412.68,151.57 L413.16,151.55 L413.64,151.54 L414.13,151.53 L414.61,151.52 L415.09,151.51 L415.57,151.5 L416.05,151.49 L416.53,151.48 L417.02,151.47 L417.5,151.46 L417.98,151.45 L418.46,151.45 L418.94,151.44 L419.42,151.43 L419.91,151.42 L420.39,151.41 L420.87,151.4 L421.35,151.39 L421.83,151.38 L422.31,151.37 L422.8,151.36 L423.28,151.36 L423.76,151.35 L424.24,151.34 L424.72,151.33 L425.2,151.32 L425.69,151.32 L426.17,151.31 L426.65,151.3" fill="none" stroke="#f4f030" stroke-width="1.15" stroke-linejoin="round" stroke-linecap="round" />
<path d="M426.65,151.9 L426.17,151.91 L425.69,151.92 L425.2,151.92 L424.72,151.93 L424.24,151.94 L423.76,151.95 L423.28,151.96 L422.8,151.96 L422.31,151.97 L421.83,151.98 L421.35,151.99 L420.87,152 L420.39,152.01 L419.91,152.02 L419.42,152.03 L418.94,152.04 L418.46,152.05 L417.98,152.05 L417.5,152.06 L417.02,152.07 L416.53,152.08 L416.05,152.09 L415.57,152.1 L415.09,152.11 L414.61,152.12 L414.13,152.13 L413.64,152.14 L413.16,152.15 L412.68,152.17 L412.2,152.18 L411.72,152.19 L411.24,152.2 L410.75,152.21 L410.27,152.22 L409.79,152.23 L409.31,152.24 L408.83,152.26 L408.35,152.27 L407.87,152.28 L407.38,152.29 L406.9,152.3 L406.42,152.32 L405.94,152.33 L405.46,152.34 L404.97,152.35 L404.49,152.37 L404.01,152.38 L403.53,152.39 L403.05,152.41 L402.57,152.42 L402.08,152.43 L401.6,152.45 L401.12,152.46 L400.64,152.47 L400.16,152.49 L399.68,152.5 L399.19,152.52 L398.71,152.53 L398.23,152.55 L397.75,152.56 L397.27,152.58 L396.79,152.59 L396.3,152.61 L395.82,152.62 L395.34,152.64 L394.86,152.66 L394.38,152.67 L393.9,152.69 L393.41,152.71 L392.93,152.72 L392.45,152.74 L391.97,152.76 L391.49,152.77 L391.01,152.79 L390.52,152.81 L390.04,152.83 L389.56,152.84 L389.08,152.86 L388.6,152.88 L388.12,152.9 L387.63,152.92 L387.15,152.94 L386.67,152.96 L386.19,152.98 L385.71,153 L385.23,153.02 L384.75,153.04 L384.26,153.06 L383.78,153.08 L383.3,153.1 L382.82,153.12 L382.34,153.14 L381.85,153.16 L381.37,153.19 L380.89,153.21 L380.41,153.23 L379.93,153.25 L379.45,153.28 L378.96,153.3 L378.48,153.32 L378,153.35 L377.52,153.37 L377.04,153.4 L376.56,153.42 L376.07,153.44 L375.59,153.47 L375.11,153.5 L374.63,153.52 L374.15,153.55 L373.67,153.57 L373.18,153.6 L372.7,153.63 L372.22,153.65 L371.74,153.68 L371.26,153.71 L370.78,153.74 L370.29,153.76 L369.81,153.79 L369.33,153.82 L368.85,153.85 L368.37,153.88 L367.89,153.91 L367.4,153.94 L366.92,153.97 L366.44,154 L365.96,154.03 L365.48,154.07 L365,154.1 L364.51,154.13 L364.03,154.16 L363.55,154.2 L363.07,154.23 L362.59,154.26 L362.11,154.3 L361.62,154.33 L361.14,154.37 L360.66,154.4 L360.18,154.44 L359.7,154.47 L359.22,154.51 L358.73,154.55 L358.25,154.59 L357.77,154.62 L357.29,154.66 L356.81,154.7 L356.33,154.74 L355.84,154.78 L355.36,154.82 L354.88,154.86 L354.4,154.9 L353.92,154.94 L353.44,154.98 L352.95,155.03 L352.47,155.07 L351.99,155.11 L351.51,155.16 L351.03,155.2 L350.55,155.25 L350.06,155.31 L349.58,155.39 L349.1,155.55 L348.62,155.93 L348.14,156.96 L347.66,159.65 L347.17,165.63 L346.69,174.67 L346.21,182.66 L345.73,187.01 L345.25,188.79 L344.77,189.45 L344.28,189.7 L343.8,189.82 L343.32,189.88 L342.84,189.94 L342.36,189.98 L341.88,190.03 L341.39,190.07 L340.91,190.12 L340.43,190.16 L339.95,190.2 L339.47,190.24 L338.99,190.29 L338.5,190.33 L338.02,190.37 L337.54,190.41 L337.06,190.45 L336.58,190.49 L336.1,190.53 L335.62,190.56 L335.13,190.6 L334.65,190.64 L334.17,190.68 L333.69,190.71 L333.21,190.75 L332.72,190.79 L332.24,190.82 L331.76,190.86 L331.28,190.89 L330.8,190.93 L330.32,190.96 L329.83,190.99 L329.35,191.03 L328.87,191.06 L328.39,191.09 L327.91,191.12 L327.43,191.16 L326.94,191.19 L326.46,191.22 L325.98,191.25 L325.5,191.28 L325.02,191.31 L324.54,191.34 L324.06,191.37 L323.57,191.4 L323.09,191.43 L322.61,191.46 L322.13,191.48 L321.65,191.51 L321.16,191.54 L320.68,191.57 L320.2,191.59 L319.72,191.62 L319.24,191.65 L318.76,191.67 L318.27,191.7 L317.79,191.72 L317.31,191.75 L316.83,191.77 L316.35,191.8 L315.87,191.82 L315.38,191.85 L314.9,191.87 L314.42,191.89 L313.94,191.92 L313.46,191.94 L312.98,191.96 L312.5,191.98 L312.01,192.01 L311.53,192.03 L311.05,192.05 L310.57,192.07 L310.09,192.09 L309.6,192.11 L309.12,192.14 L308.64,192.16 L308.16,192.18 L307.68,192.2 L307.2,192.22 L306.71,192.24 L306.23,192.26 L305.75,192.28 L305.27,192.29 L304.79,192.31 L304.31,192.33 L303.82,192.35 L303.34,192.37 L302.86,192.39 L302.38,192.4 L301.9,192.42 L301.42,192.44 L300.94,192.46 L300.45,192.47 L299.97,192.49 L299.49,192.51 L299.01,192.52 L298.53,192.54 L298.04,192.56 L297.56,192.57 L297.08,192.59 L296.6,192.6 L296.12,192.62 L295.64,192.63 L295.15,192.65 L294.67,192.66 L294.19,192.68 L293.71,192.69 L293.23,192.71 L292.75,192.72 L292.26,192.74 L291.78,192.75 L291.3,192.76 L290.82,192.78 L290.34,192.79 L289.86,192.81 L289.38,192.82 L288.89,192.83 L288.41,192.84 L287.93,192.86 L287.45,192.87 L286.97,192.88 L286.49,192.89 L286,192.91 L285.52,192.92 L285.04,192.93 L284.56,192.94 L284.08,192.95 L283.59,192.97 L283.11,192.98 L282.63,192.99 L282.15,193" fill="none" stroke="#e8e020" stroke-width="1.1" stroke-linejoin="round" stroke-linecap="round" />
<path d="M282.15,224 L282.63,223.99 L283.11,223.99 L283.59,223.98 L284.08,223.97 L284.56,223.97 L285.04,223.96 L285.52,223.95 L286,223.95 L286.48,223.94 L286.97,223.93 L287.45,223.93 L287.93,223.92 L288.41,223.91 L288.89,223.91 L289.38,223.9 L289.86,223.89 L290.34,223.88 L290.82,223.88 L291.3,223.87 L291.78,223.86 L292.26,223.85 L292.75,223.85 L293.23,223.84 L293.71,223.83 L294.19,223.82 L294.67,223.81 L295.15,223.8 L295.64,223.8 L296.12,223.79 L296.6,223.78 L297.08,223.77 L297.56,223.76 L298.04,223.75 L298.53,223.74 L299.01,223.73 L299.49,223.73 L299.97,223.72 L300.45,223.71 L300.93,223.7 L301.42,223.69 L301.9,223.68 L302.38,223.67 L302.86,223.66 L303.34,223.65 L303.82,223.64 L304.31,223.63 L304.79,223.62 L305.27,223.61 L305.75,223.6 L306.23,223.58 L306.71,223.57 L307.2,223.56 L307.68,223.55 L308.16,223.54 L308.64,223.53 L309.12,223.52 L309.6,223.51 L310.09,223.49 L310.57,223.48 L311.05,223.47 L311.53,223.46 L312.01,223.45 L312.5,223.43 L312.98,223.42 L313.46,223.41 L313.94,223.4 L314.42,223.38 L314.9,223.37 L315.38,223.36 L315.87,223.34 L316.35,223.33 L316.83,223.32 L317.31,223.3 L317.79,223.29 L318.27,223.27 L318.76,223.26 L319.24,223.24 L319.72,223.23 L320.2,223.21 L320.68,223.2 L321.16,223.18 L321.65,223.17 L322.13,223.15 L322.61,223.14 L323.09,223.12 L323.57,223.11 L324.05,223.09 L324.54,223.07 L325.02,223.06 L325.5,223.04 L325.98,223.02 L326.46,223.01 L326.94,222.99 L327.43,222.97 L327.91,222.95 L328.39,222.94 L328.87,222.92 L329.35,222.9 L329.83,222.88 L330.32,222.86 L330.8,222.84 L331.28,222.82 L331.76,222.8 L332.24,222.78 L332.72,222.76 L333.21,222.74 L333.69,222.72 L334.17,222.7 L334.65,222.68 L335.13,222.66 L335.62,222.64 L336.1,222.62 L336.58,222.6 L337.06,222.58 L337.54,222.55 L338.02,222.53 L338.5,222.51 L338.99,222.49 L339.47,222.46 L339.95,222.44 L340.43,222.42 L340.91,222.39 L341.39,222.37 L341.88,222.34 L342.36,222.32 L342.84,222.29 L343.32,222.27 L343.8,222.24 L344.28,222.22 L344.77,222.19 L345.25,222.16 L345.73,222.14 L346.21,222.11 L346.69,222.08 L347.17,222.05 L347.66,222.03 L348.14,222 L348.62,221.97 L349.1,221.94 L349.58,221.91 L350.06,221.88 L350.55,221.85 L351.03,221.82 L351.51,221.79 L351.99,221.76 L352.47,221.73 L352.95,221.7 L353.44,221.67 L353.92,221.63 L354.4,221.6 L354.88,221.57 L355.36,221.53 L355.84,221.5 L356.33,221.47 L356.81,221.43 L357.29,221.4 L357.77,221.36 L358.25,221.32 L358.73,221.29 L359.22,221.25 L359.7,221.21 L360.18,221.16 L360.66,221.09 L361.14,220.97 L361.62,220.71 L362.11,220.14 L362.59,218.78 L363.07,215.81 L363.55,210.35 L364.03,203.03 L364.51,196.53 L365,192.55 L365.48,190.66 L365.96,189.85 L366.44,189.53 L366.92,189.41 L367.4,189.36 L367.89,189.34 L368.37,189.34 L368.85,189.34 L369.33,189.34 L369.81,189.34 L370.29,189.34 L370.78,189.34 L371.26,189.34 L371.74,189.34 L372.22,189.34 L372.7,189.34 L373.18,189.34 L373.67,189.34 L374.15,189.35 L374.63,189.35 L375.11,189.35 L375.59,189.35 L376.07,189.35 L376.56,189.35 L377.04,189.35 L377.52,189.35 L378,189.35 L378.48,189.35 L378.96,189.35 L379.45,189.35 L379.93,189.35 L380.41,189.36 L380.89,189.36 L381.37,189.36 L381.85,189.36 L382.34,189.36 L382.82,189.36 L383.3,189.36 L383.78,189.36 L384.26,189.36 L384.74,189.36 L385.23,189.36 L385.71,189.36 L386.19,189.36 L386.67,189.36 L387.15,189.37 L387.63,189.37 L388.12,189.37 L388.6,189.37 L389.08,189.37 L389.56,189.37 L390.04,189.37 L390.52,189.37 L391.01,189.37 L391.49,189.37 L391.97,189.37 L392.45,189.37 L392.93,189.37 L393.41,189.37 L393.9,189.37 L394.38,189.37 L394.86,189.37 L395.34,189.38 L395.82,189.38 L396.3,189.38 L396.79,189.38 L397.27,189.38 L397.75,189.38 L398.23,189.38 L398.71,189.38 L399.19,189.38 L399.68,189.38 L400.16,189.38 L400.64,189.38 L401.12,189.38 L401.6,189.38 L402.08,189.38 L402.57,189.38 L403.05,189.38 L403.53,189.38 L404.01,189.38 L404.49,189.38 L404.97,189.38 L405.46,189.39 L405.94,189.39 L406.42,189.39 L406.9,189.39 L407.38,189.39 L407.86,189.39 L408.35,189.39 L408.83,189.39 L409.31,189.39 L409.79,189.39 L410.27,189.39 L410.75,189.39 L411.24,189.39 L411.72,189.39 L412.2,189.39 L412.68,189.39 L413.16,189.39 L413.64,189.39 L414.13,189.39 L414.61,189.39 L415.09,189.39 L415.57,189.39 L416.05,189.39 L416.53,189.39 L417.02,189.39 L417.5,189.39 L417.98,189.39 L418.46,189.4 L418.94,189.4 L419.42,189.4 L419.91,189.4 L420.39,189.4 L420.87,189.4 L421.35,189.4 L421.83,189.4 L422.31,189.4 L422.8,189.4 L423.28,189.4 L423.76,189.4 L424.24,189.4 L424.72,189.4 L425.2,189.4 L425.69,189.4 L426.17,189.4 L426.65,189.4" fill="none" stroke="#58d040" stroke-width="1.15" stroke-linejoin="round" stroke-linecap="round" />
<path d="M426.65,190 L426.17,190 L425.69,190 L425.2,190 L424.72,190 L424.24,190 L423.76,190 L423.28,190 L422.8,190 L422.31,190 L421.83,190 L421.35,190 L420.87,190 L420.39,190 L419.91,190 L419.42,190 L418.94,190 L418.46,190 L417.98,189.99 L417.5,189.99 L417.02,189.99 L416.53,189.99 L416.05,189.99 L415.57,189.99 L415.09,189.99 L414.61,189.99 L414.13,189.99 L413.64,189.99 L413.16,189.99 L412.68,189.99 L412.2,189.99 L411.72,189.99 L411.24,189.99 L410.75,189.99 L410.27,189.99 L409.79,189.99 L409.31,189.99 L408.83,189.99 L408.35,189.99 L407.87,189.99 L407.38,189.99 L406.9,189.99 L406.42,189.99 L405.94,189.99 L405.46,189.99 L404.97,189.98 L404.49,189.98 L404.01,189.98 L403.53,189.98 L403.05,189.98 L402.57,189.98 L402.08,189.98 L401.6,189.98 L401.12,189.98 L400.64,189.98 L400.16,189.98 L399.68,189.98 L399.19,189.98 L398.71,189.98 L398.23,189.98 L397.75,189.98 L397.27,189.98 L396.79,189.98 L396.3,189.98 L395.82,189.98 L395.34,189.98 L394.86,189.97 L394.38,189.97 L393.9,189.97 L393.41,189.97 L392.93,189.97 L392.45,189.97 L391.97,189.97 L391.49,189.97 L391.01,189.97 L390.52,189.97 L390.04,189.97 L389.56,189.97 L389.08,189.97 L388.6,189.97 L388.12,189.97 L387.63,189.97 L387.15,189.97 L386.67,189.96 L386.19,189.96 L385.71,189.96 L385.23,189.96 L384.75,189.96 L384.26,189.96 L383.78,189.96 L383.3,189.96 L382.82,189.96 L382.34,189.96 L381.85,189.96 L381.37,189.96 L380.89,189.96 L380.41,189.96 L379.93,189.95 L379.45,189.95 L378.96,189.95 L378.48,189.95 L378,189.95 L377.52,189.95 L377.04,189.95 L376.56,189.95 L376.07,189.95 L375.59,189.95 L375.11,189.95 L374.63,189.95 L374.15,189.95 L373.67,189.94 L373.18,189.94 L372.7,189.94 L372.22,189.94 L371.74,189.94 L371.26,189.94 L370.78,189.94 L370.29,189.94 L369.81,189.94 L369.33,189.94 L368.85,189.93 L368.37,189.93 L367.89,189.93 L367.4,189.93 L366.92,189.93 L366.44,189.93 L365.96,189.93 L365.48,189.93 L365,189.93 L364.51,189.93 L364.03,189.92 L363.55,189.92 L363.07,189.92 L362.59,189.92 L362.11,189.92 L361.62,189.92 L361.14,189.92 L360.66,189.92 L360.18,189.92 L359.7,189.91 L359.22,189.91 L358.73,189.91 L358.25,189.91 L357.77,189.91 L357.29,189.91 L356.81,189.91 L356.33,189.91 L355.84,189.9 L355.36,189.9 L354.88,189.9 L354.4,189.9 L353.92,189.9 L353.44,189.9 L352.95,189.9 L352.47,189.89 L351.99,189.89 L351.51,189.89 L351.03,189.89 L350.55,189.9 L350.06,189.9 L349.58,189.93 L349.1,190 L348.62,190.18 L348.14,190.65 L347.66,191.8 L347.17,194.39 L346.69,199.32 L346.21,206.2 L345.73,212.58 L345.25,216.62 L344.77,218.6 L344.28,219.47 L343.8,219.83 L343.32,219.98 L342.84,220.06 L342.36,220.11 L341.88,220.14 L341.39,220.17 L340.91,220.19 L340.43,220.21 L339.95,220.24 L339.47,220.26 L338.99,220.29 L338.5,220.31 L338.02,220.33 L337.54,220.35 L337.06,220.38 L336.58,220.4 L336.1,220.42 L335.62,220.44 L335.13,220.46 L334.65,220.48 L334.17,220.5 L333.69,220.52 L333.21,220.54 L332.72,220.56 L332.24,220.58 L331.76,220.6 L331.28,220.62 L330.8,220.64 L330.32,220.66 L329.83,220.68 L329.35,220.7 L328.87,220.72 L328.39,220.74 L327.91,220.75 L327.43,220.77 L326.94,220.79 L326.46,220.81 L325.98,220.82 L325.5,220.84 L325.02,220.86 L324.54,220.87 L324.06,220.89 L323.57,220.91 L323.09,220.92 L322.61,220.94 L322.13,220.95 L321.65,220.97 L321.16,220.98 L320.68,221 L320.2,221.01 L319.72,221.03 L319.24,221.04 L318.76,221.06 L318.27,221.07 L317.79,221.09 L317.31,221.1 L316.83,221.12 L316.35,221.13 L315.87,221.14 L315.38,221.16 L314.9,221.17 L314.42,221.18 L313.94,221.2 L313.46,221.21 L312.98,221.22 L312.5,221.23 L312.01,221.25 L311.53,221.26 L311.05,221.27 L310.57,221.28 L310.09,221.29 L309.6,221.31 L309.12,221.32 L308.64,221.33 L308.16,221.34 L307.68,221.35 L307.2,221.36 L306.71,221.37 L306.23,221.38 L305.75,221.4 L305.27,221.41 L304.79,221.42 L304.31,221.43 L303.82,221.44 L303.34,221.45 L302.86,221.46 L302.38,221.47 L301.9,221.48 L301.42,221.49 L300.94,221.5 L300.45,221.51 L299.97,221.52 L299.49,221.53 L299.01,221.53 L298.53,221.54 L298.04,221.55 L297.56,221.56 L297.08,221.57 L296.6,221.58 L296.12,221.59 L295.64,221.6 L295.15,221.6 L294.67,221.61 L294.19,221.62 L293.71,221.63 L293.23,221.64 L292.75,221.65 L292.26,221.65 L291.78,221.66 L291.3,221.67 L290.82,221.68 L290.34,221.68 L289.86,221.69 L289.38,221.7 L288.89,221.71 L288.41,221.71 L287.93,221.72 L287.45,221.73 L286.97,221.73 L286.49,221.74 L286,221.75 L285.52,221.75 L285.04,221.76 L284.56,221.77 L284.08,221.77 L283.59,221.78 L283.11,221.79 L282.63,221.79 L282.15,221.8" fill="none" stroke="#78dc3c" stroke-width="1.1" stroke-linejoin="round" stroke-linecap="round" />
<path d="M282.15,259.4 L282.63,259.39 L283.11,259.39 L283.59,259.38 L284.08,259.38 L284.56,259.37 L285.04,259.36 L285.52,259.36 L286,259.35 L286.48,259.34 L286.97,259.34 L287.45,259.33 L287.93,259.32 L288.41,259.32 L288.89,259.31 L289.38,259.3 L289.86,259.3 L290.34,259.29 L290.82,259.28 L291.3,259.27 L291.78,259.27 L292.26,259.26 L292.75,259.25 L293.23,259.24 L293.71,259.24 L294.19,259.23 L294.67,259.22 L295.15,259.21 L295.64,259.2 L296.12,259.2 L296.6,259.19 L297.08,259.18 L297.56,259.17 L298.04,259.16 L298.53,259.15 L299.01,259.15 L299.49,259.14 L299.97,259.13 L300.45,259.12 L300.93,259.11 L301.42,259.1 L301.9,259.09 L302.38,259.08 L302.86,259.07 L303.34,259.06 L303.82,259.05 L304.31,259.04 L304.79,259.03 L305.27,259.02 L305.75,259.01 L306.23,259 L306.71,258.99 L307.2,258.98 L307.68,258.97 L308.16,258.96 L308.64,258.95 L309.12,258.94 L309.6,258.93 L310.09,258.92 L310.57,258.9 L311.05,258.89 L311.53,258.88 L312.01,258.87 L312.5,258.86 L312.98,258.85 L313.46,258.83 L313.94,258.82 L314.42,258.81 L314.9,258.8 L315.38,258.78 L315.87,258.77 L316.35,258.76 L316.83,258.74 L317.31,258.73 L317.79,258.72 L318.27,258.7 L318.76,258.69 L319.24,258.68 L319.72,258.66 L320.2,258.65 L320.68,258.63 L321.16,258.62 L321.65,258.6 L322.13,258.59 L322.61,258.57 L323.09,258.56 L323.57,258.54 L324.05,258.53 L324.54,258.51 L325.02,258.5 L325.5,258.48 L325.98,258.46 L326.46,258.45 L326.94,258.43 L327.43,258.41 L327.91,258.4 L328.39,258.38 L328.87,258.36 L329.35,258.34 L329.83,258.33 L330.32,258.31 L330.8,258.29 L331.28,258.27 L331.76,258.25 L332.24,258.23 L332.72,258.22 L333.21,258.2 L333.69,258.18 L334.17,258.16 L334.65,258.14 L335.13,258.12 L335.62,258.1 L336.1,258.08 L336.58,258.06 L337.06,258.03 L337.54,258.01 L338.02,257.99 L338.5,257.97 L338.99,257.95 L339.47,257.93 L339.95,257.9 L340.43,257.88 L340.91,257.86 L341.39,257.83 L341.88,257.81 L342.36,257.79 L342.84,257.76 L343.32,257.74 L343.8,257.71 L344.28,257.69 L344.77,257.67 L345.25,257.64 L345.73,257.61 L346.21,257.59 L346.69,257.56 L347.17,257.54 L347.66,257.51 L348.14,257.48 L348.62,257.45 L349.1,257.43 L349.58,257.4 L350.06,257.37 L350.55,257.34 L351.03,257.31 L351.51,257.28 L351.99,257.25 L352.47,257.22 L352.95,257.19 L353.44,257.16 L353.92,257.13 L354.4,257.1 L354.88,257.07 L355.36,257.04 L355.84,257 L356.33,256.97 L356.81,256.94 L357.29,256.9 L357.77,256.87 L358.25,256.83 L358.73,256.8 L359.22,256.76 L359.7,256.71 L360.18,256.65 L360.66,256.55 L361.14,256.37 L361.62,256 L362.11,255.24 L362.59,253.63 L363.07,250.47 L363.55,245.1 L364.03,237.91 L364.51,230.89 L365,225.85 L365.48,222.98 L365.96,221.55 L366.44,220.88 L366.92,220.57 L367.4,220.42 L367.89,220.35 L368.37,220.31 L368.85,220.28 L369.33,220.26 L369.81,220.24 L370.29,220.22 L370.78,220.2 L371.26,220.19 L371.74,220.17 L372.22,220.15 L372.7,220.14 L373.18,220.12 L373.67,220.1 L374.15,220.09 L374.63,220.07 L375.11,220.06 L375.59,220.04 L376.07,220.03 L376.56,220.01 L377.04,220 L377.52,219.98 L378,219.97 L378.48,219.95 L378.96,219.94 L379.45,219.93 L379.93,219.91 L380.41,219.9 L380.89,219.89 L381.37,219.87 L381.85,219.86 L382.34,219.85 L382.82,219.83 L383.3,219.82 L383.78,219.81 L384.26,219.8 L384.74,219.78 L385.23,219.77 L385.71,219.76 L386.19,219.75 L386.67,219.73 L387.15,219.72 L387.63,219.71 L388.12,219.7 L388.6,219.69 L389.08,219.68 L389.56,219.67 L390.04,219.66 L390.52,219.65 L391.01,219.63 L391.49,219.62 L391.97,219.61 L392.45,219.6 L392.93,219.59 L393.41,219.58 L393.9,219.57 L394.38,219.56 L394.86,219.55 L395.34,219.54 L395.82,219.53 L396.3,219.52 L396.79,219.52 L397.27,219.51 L397.75,219.5 L398.23,219.49 L398.71,219.48 L399.19,219.47 L399.68,219.46 L400.16,219.45 L400.64,219.44 L401.12,219.44 L401.6,219.43 L402.08,219.42 L402.57,219.41 L403.05,219.4 L403.53,219.4 L404.01,219.39 L404.49,219.38 L404.97,219.37 L405.46,219.36 L405.94,219.36 L406.42,219.35 L406.9,219.34 L407.38,219.33 L407.86,219.33 L408.35,219.32 L408.83,219.31 L409.31,219.31 L409.79,219.3 L410.27,219.29 L410.75,219.29 L411.24,219.28 L411.72,219.27 L412.2,219.27 L412.68,219.26 L413.16,219.25 L413.64,219.25 L414.13,219.24 L414.61,219.23 L415.09,219.23 L415.57,219.22 L416.05,219.22 L416.53,219.21 L417.02,219.2 L417.5,219.2 L417.98,219.19 L418.46,219.19 L418.94,219.18 L419.42,219.18 L419.91,219.17 L420.39,219.17 L420.87,219.16 L421.35,219.15 L421.83,219.15 L422.31,219.14 L422.8,219.14 L423.28,219.13 L423.76,219.13 L424.24,219.12 L424.72,219.12 L425.2,219.11 L425.69,219.11 L426.17,219.1 L426.65,219.1" fill="none" stroke="#38c8e0" stroke-width="1.15" stroke-linejoin="round" stroke-linecap="round" />
<path d="M426.65,219.7 L426.17,219.7 L425.69,219.71 L425.2,219.71 L424.72,219.72 L424.24,219.72 L423.76,219.73 L423.28,219.73 L422.8,219.74 L422.31,219.74 L421.83,219.75 L421.35,219.75 L420.87,219.76 L420.39,219.77 L419.91,219.77 L419.42,219.78 L418.94,219.78 L418.46,219.79 L417.98,219.79 L417.5,219.8 L417.02,219.8 L416.53,219.81 L416.05,219.82 L415.57,219.82 L415.09,219.83 L414.61,219.83 L414.13,219.84 L413.64,219.85 L413.16,219.85 L412.68,219.86 L412.2,219.87 L411.72,219.87 L411.24,219.88 L410.75,219.89 L410.27,219.89 L409.79,219.9 L409.31,219.91 L408.83,219.91 L408.35,219.92 L407.87,219.93 L407.38,219.93 L406.9,219.94 L406.42,219.95 L405.94,219.96 L405.46,219.96 L404.97,219.97 L404.49,219.98 L404.01,219.99 L403.53,220 L403.05,220 L402.57,220.01 L402.08,220.02 L401.6,220.03 L401.12,220.04 L400.64,220.04 L400.16,220.05 L399.68,220.06 L399.19,220.07 L398.71,220.08 L398.23,220.09 L397.75,220.1 L397.27,220.11 L396.79,220.12 L396.3,220.12 L395.82,220.13 L395.34,220.14 L394.86,220.15 L394.38,220.16 L393.9,220.17 L393.41,220.18 L392.93,220.19 L392.45,220.2 L391.97,220.21 L391.49,220.22 L391.01,220.23 L390.52,220.25 L390.04,220.26 L389.56,220.27 L389.08,220.28 L388.6,220.29 L388.12,220.3 L387.63,220.31 L387.15,220.32 L386.67,220.33 L386.19,220.35 L385.71,220.36 L385.23,220.37 L384.75,220.38 L384.26,220.4 L383.78,220.41 L383.3,220.42 L382.82,220.43 L382.34,220.45 L381.85,220.46 L381.37,220.47 L380.89,220.49 L380.41,220.5 L379.93,220.51 L379.45,220.53 L378.96,220.54 L378.48,220.55 L378,220.57 L377.52,220.58 L377.04,220.6 L376.56,220.61 L376.07,220.63 L375.59,220.64 L375.11,220.66 L374.63,220.67 L374.15,220.69 L373.67,220.7 L373.18,220.72 L372.7,220.74 L372.22,220.75 L371.74,220.77 L371.26,220.79 L370.78,220.8 L370.29,220.82 L369.81,220.84 L369.33,220.85 L368.85,220.87 L368.37,220.89 L367.89,220.91 L367.4,220.92 L366.92,220.94 L366.44,220.96 L365.96,220.98 L365.48,221 L365,221.02 L364.51,221.04 L364.03,221.06 L363.55,221.08 L363.07,221.1 L362.59,221.12 L362.11,221.14 L361.62,221.16 L361.14,221.18 L360.66,221.2 L360.18,221.22 L359.7,221.24 L359.22,221.27 L358.73,221.29 L358.25,221.31 L357.77,221.33 L357.29,221.36 L356.81,221.38 L356.33,221.4 L355.84,221.43 L355.36,221.45 L354.88,221.48 L354.4,221.5 L353.92,221.52 L353.44,221.55 L352.95,221.58 L352.47,221.6 L351.99,221.63 L351.51,221.65 L351.03,221.68 L350.55,221.71 L350.06,221.73 L349.58,221.76 L349.1,221.79 L348.62,221.82 L348.14,221.86 L347.66,221.9 L347.17,221.96 L346.69,222.07 L346.21,222.27 L345.73,222.7 L345.25,223.62 L344.77,225.51 L344.28,229.12 L343.8,234.9 L343.32,241.97 L342.84,248.24 L342.36,252.4 L341.88,254.66 L341.39,255.76 L340.91,256.27 L340.43,256.51 L339.95,256.63 L339.47,256.69 L338.99,256.73 L338.5,256.76 L338.02,256.79 L337.54,256.81 L337.06,256.83 L336.58,256.86 L336.1,256.88 L335.62,256.9 L335.13,256.92 L334.65,256.94 L334.17,256.96 L333.69,256.98 L333.21,257 L332.72,257.02 L332.24,257.03 L331.76,257.05 L331.28,257.07 L330.8,257.09 L330.32,257.11 L329.83,257.13 L329.35,257.14 L328.87,257.16 L328.39,257.18 L327.91,257.2 L327.43,257.21 L326.94,257.23 L326.46,257.25 L325.98,257.26 L325.5,257.28 L325.02,257.3 L324.54,257.31 L324.06,257.33 L323.57,257.34 L323.09,257.36 L322.61,257.37 L322.13,257.39 L321.65,257.4 L321.16,257.42 L320.68,257.43 L320.2,257.45 L319.72,257.46 L319.24,257.48 L318.76,257.49 L318.27,257.5 L317.79,257.52 L317.31,257.53 L316.83,257.54 L316.35,257.56 L315.87,257.57 L315.38,257.58 L314.9,257.6 L314.42,257.61 L313.94,257.62 L313.46,257.63 L312.98,257.65 L312.5,257.66 L312.01,257.67 L311.53,257.68 L311.05,257.69 L310.57,257.7 L310.09,257.72 L309.6,257.73 L309.12,257.74 L308.64,257.75 L308.16,257.76 L307.68,257.77 L307.2,257.78 L306.71,257.79 L306.23,257.8 L305.75,257.81 L305.27,257.82 L304.79,257.83 L304.31,257.84 L303.82,257.85 L303.34,257.86 L302.86,257.87 L302.38,257.88 L301.9,257.89 L301.42,257.9 L300.94,257.91 L300.45,257.92 L299.97,257.93 L299.49,257.94 L299.01,257.95 L298.53,257.95 L298.04,257.96 L297.56,257.97 L297.08,257.98 L296.6,257.99 L296.12,258 L295.64,258 L295.15,258.01 L294.67,258.02 L294.19,258.03 L293.71,258.04 L293.23,258.04 L292.75,258.05 L292.26,258.06 L291.78,258.07 L291.3,258.07 L290.82,258.08 L290.34,258.09 L289.86,258.1 L289.38,258.1 L288.89,258.11 L288.41,258.12 L287.93,258.12 L287.45,258.13 L286.97,258.14 L286.49,258.14 L286,258.15 L285.52,258.16 L285.04,258.16 L284.56,258.17 L284.08,258.18 L283.59,258.18 L283.11,258.19 L282.63,258.19 L282.15,258.2" fill="none" stroke="#40d8e0" stroke-width="1.1" stroke-linejoin="round" stroke-linecap="round" />
<path d="M282.15,293.15 L282.63,293.15 L283.11,293.14 L283.59,293.14 L284.08,293.13 L284.56,293.12 L285.04,293.12 L285.52,293.11 L286,293.11 L286.48,293.1 L286.97,293.1 L287.45,293.09 L287.93,293.09 L288.41,293.08 L288.89,293.08 L289.38,293.07 L289.86,293.06 L290.34,293.06 L290.82,293.05 L291.3,293.05 L291.78,293.04 L292.26,293.03 L292.75,293.03 L293.23,293.02 L293.71,293.01 L294.19,293.01 L294.67,293 L295.15,293 L295.64,292.99 L296.12,292.98 L296.6,292.97 L297.08,292.97 L297.56,292.96 L298.04,292.95 L298.53,292.95 L299.01,292.94 L299.49,292.93 L299.97,292.93 L300.45,292.92 L300.93,292.91 L301.42,292.9 L301.9,292.89 L302.38,292.89 L302.86,292.88 L303.34,292.87 L303.82,292.86 L304.31,292.85 L304.79,292.85 L305.27,292.84 L305.75,292.83 L306.23,292.82 L306.71,292.81 L307.2,292.8 L307.68,292.8 L308.16,292.79 L308.64,292.78 L309.12,292.77 L309.6,292.76 L310.09,292.75 L310.57,292.74 L311.05,292.73 L311.53,292.72 L312.01,292.71 L312.5,292.7 L312.98,292.69 L313.46,292.68 L313.94,292.67 L314.42,292.66 L314.9,292.65 L315.38,292.64 L315.87,292.63 L316.35,292.62 L316.83,292.61 L317.31,292.6 L317.79,292.59 L318.27,292.57 L318.76,292.56 L319.24,292.55 L319.72,292.54 L320.2,292.53 L320.68,292.52 L321.16,292.5 L321.65,292.49 L322.13,292.48 L322.61,292.47 L323.09,292.45 L323.57,292.44 L324.05,292.43 L324.54,292.42 L325.02,292.4 L325.5,292.39 L325.98,292.38 L326.46,292.36 L326.94,292.35 L327.43,292.34 L327.91,292.32 L328.39,292.31 L328.87,292.29 L329.35,292.28 L329.83,292.26 L330.32,292.25 L330.8,292.23 L331.28,292.22 L331.76,292.2 L332.24,292.19 L332.72,292.17 L333.21,292.16 L333.69,292.14 L334.17,292.12 L334.65,292.11 L335.13,292.09 L335.62,292.07 L336.1,292.06 L336.58,292.04 L337.06,292.02 L337.54,292 L338.02,291.99 L338.5,291.97 L338.99,291.95 L339.47,291.93 L339.95,291.91 L340.43,291.9 L340.91,291.88 L341.39,291.86 L341.88,291.84 L342.36,291.82 L342.84,291.8 L343.32,291.78 L343.8,291.76 L344.28,291.74 L344.77,291.72 L345.25,291.7 L345.73,291.67 L346.21,291.65 L346.69,291.63 L347.17,291.61 L347.66,291.59 L348.14,291.57 L348.62,291.54 L349.1,291.52 L349.58,291.5 L350.06,291.47 L350.55,291.45 L351.03,291.43 L351.51,291.4 L351.99,291.38 L352.47,291.35 L352.95,291.35 L353.44,291.46 L353.92,291.81 L354.4,292.14 L354.88,291.94 L355.36,291.48 L355.84,291.22 L356.33,291.15 L356.81,291.12 L357.29,291.09 L357.77,291.06 L358.25,291.03 L358.73,291 L359.22,290.97 L359.7,290.94 L360.18,290.91 L360.66,290.88 L361.14,290.85 L361.62,290.82 L362.11,290.77 L362.59,290.72 L363.07,290.66 L363.55,290.56 L364.03,290.39 L364.51,290.09 L365,289.56 L365.48,288.6 L365.96,286.87 L366.44,283.95 L366.92,279.47 L367.4,273.54 L367.89,267.08 L368.37,261.39 L368.85,257.25 L369.33,254.62 L369.81,253.1 L370.29,252.27 L370.78,251.82 L371.26,251.59 L371.74,251.46 L372.22,251.39 L372.7,251.35 L373.18,251.33 L373.67,251.31 L374.15,251.3 L374.63,251.29 L375.11,251.28 L375.59,251.27 L376.07,251.26 L376.56,251.26 L377.04,251.25 L377.52,251.24 L378,251.23 L378.48,251.23 L378.96,251.22 L379.45,251.21 L379.93,251.21 L380.41,251.2 L380.89,251.19 L381.37,251.19 L381.85,251.18 L382.34,251.17 L382.82,251.17 L383.3,251.16 L383.78,251.15 L384.26,251.15 L384.74,251.14 L385.23,251.14 L385.71,251.13 L386.19,251.12 L386.67,251.12 L387.15,251.11 L387.63,251.11 L388.12,251.1 L388.6,251.09 L389.08,251.09 L389.56,251.08 L390.04,251.08 L390.52,251.07 L391.01,251.07 L391.49,251.06 L391.97,251.06 L392.45,251.05 L392.93,251.05 L393.41,251.04 L393.9,251.04 L394.38,251.03 L394.86,251.03 L395.34,251.02 L395.82,251.02 L396.3,251.01 L396.79,251.01 L397.27,251 L397.75,251 L398.23,250.99 L398.71,250.99 L399.19,250.99 L399.68,250.98 L400.16,250.98 L400.64,250.97 L401.12,250.97 L401.6,250.96 L402.08,250.96 L402.57,250.96 L403.05,250.95 L403.53,250.95 L404.01,250.94 L404.49,250.94 L404.97,250.94 L405.46,250.93 L405.94,250.93 L406.42,250.92 L406.9,250.92 L407.38,250.92 L407.86,250.91 L408.35,250.91 L408.83,250.91 L409.31,250.9 L409.79,250.9 L410.27,250.9 L410.75,250.89 L411.24,250.89 L411.72,250.89 L412.2,250.88 L412.68,250.88 L413.16,250.88 L413.64,250.87 L414.13,250.87 L414.61,250.87 L415.09,250.86 L415.57,250.86 L416.05,250.86 L416.53,250.86 L417.02,250.85 L417.5,250.85 L417.98,250.85 L418.46,250.84 L418.94,250.84 L419.42,250.84 L419.91,250.84 L420.39,250.83 L420.87,250.83 L421.35,250.83 L421.83,250.82 L422.31,250.82 L422.8,250.82 L423.28,250.82 L423.76,250.81 L424.24,250.81 L424.72,250.81 L425.2,250.81 L425.69,250.8 L426.17,250.8 L426.65,250.8" fill="none" stroke="#4070e0" stroke-width="1.15" stroke-linejoin="round" stroke-linecap="round" />
<path d="M426.65,251.4 L426.17,251.4 L425.69,251.4 L425.2,251.41 L424.72,251.41 L424.24,251.41 L423.76,251.41 L423.28,251.42 L422.8,251.42 L422.31,251.42 L421.83,251.42 L421.35,251.43 L420.87,251.43 L420.39,251.43 L419.91,251.44 L419.42,251.44 L418.94,251.44 L418.46,251.44 L417.98,251.45 L417.5,251.45 L417.02,251.45 L416.53,251.46 L416.05,251.46 L415.57,251.46 L415.09,251.46 L414.61,251.47 L414.13,251.47 L413.64,251.47 L413.16,251.48 L412.68,251.48 L412.2,251.48 L411.72,251.49 L411.24,251.49 L410.75,251.49 L410.27,251.5 L409.79,251.5 L409.31,251.5 L408.83,251.51 L408.35,251.51 L407.87,251.51 L407.38,251.52 L406.9,251.52 L406.42,251.52 L405.94,251.53 L405.46,251.53 L404.97,251.54 L404.49,251.54 L404.01,251.54 L403.53,251.55 L403.05,251.55 L402.57,251.56 L402.08,251.56 L401.6,251.56 L401.12,251.57 L400.64,251.57 L400.16,251.58 L399.68,251.58 L399.19,251.59 L398.71,251.59 L398.23,251.59 L397.75,251.6 L397.27,251.6 L396.79,251.61 L396.3,251.61 L395.82,251.62 L395.34,251.62 L394.86,251.63 L394.38,251.63 L393.9,251.64 L393.41,251.64 L392.93,251.65 L392.45,251.65 L391.97,251.66 L391.49,251.66 L391.01,251.67 L390.52,251.67 L390.04,251.68 L389.56,251.68 L389.08,251.69 L388.6,251.69 L388.12,251.7 L387.63,251.71 L387.15,251.71 L386.67,251.72 L386.19,251.72 L385.71,251.73 L385.23,251.74 L384.75,251.74 L384.26,251.75 L383.78,251.75 L383.3,251.76 L382.82,251.77 L382.34,251.77 L381.85,251.78 L381.37,251.79 L380.89,251.79 L380.41,251.8 L379.93,251.81 L379.45,251.81 L378.96,251.82 L378.48,251.83 L378,251.83 L377.52,251.84 L377.04,251.85 L376.56,251.86 L376.07,251.86 L375.59,251.87 L375.11,251.88 L374.63,251.89 L374.15,251.89 L373.67,251.9 L373.18,251.91 L372.7,251.92 L372.22,251.93 L371.74,251.93 L371.26,251.94 L370.78,251.95 L370.29,251.96 L369.81,251.97 L369.33,251.98 L368.85,251.99 L368.37,251.99 L367.89,252 L367.4,252.01 L366.92,252.02 L366.44,252.03 L365.96,252.04 L365.48,252.05 L365,252.06 L364.51,252.07 L364.03,252.08 L363.55,252.09 L363.07,252.1 L362.59,252.11 L362.11,252.12 L361.62,252.13 L361.14,252.14 L360.66,252.15 L360.18,252.16 L359.7,252.17 L359.22,252.18 L358.73,252.19 L358.25,252.21 L357.77,252.22 L357.29,252.23 L356.81,252.24 L356.33,252.25 L355.84,252.27 L355.36,252.3 L354.88,252.5 L354.4,253.04 L353.92,253.58 L353.44,253.38 L352.95,252.76 L352.47,252.43 L351.99,252.37 L351.51,252.38 L351.03,252.39 L350.55,252.4 L350.06,252.42 L349.58,252.43 L349.1,252.45 L348.62,252.46 L348.14,252.48 L347.66,252.49 L347.17,252.51 L346.69,252.54 L346.21,252.58 L345.73,252.64 L345.25,252.74 L344.77,252.93 L344.28,253.27 L343.8,253.9 L343.32,255.06 L342.84,257.11 L342.36,260.47 L341.88,265.37 L341.39,271.39 L340.91,277.39 L340.43,282.26 L339.95,285.6 L339.47,287.63 L338.99,288.78 L338.5,289.4 L338.02,289.74 L337.54,289.93 L337.06,290.03 L336.58,290.09 L336.1,290.13 L335.62,290.16 L335.13,290.18 L334.65,290.2 L334.17,290.22 L333.69,290.24 L333.21,290.26 L332.72,290.27 L332.24,290.29 L331.76,290.3 L331.28,290.32 L330.8,290.33 L330.32,290.35 L329.83,290.36 L329.35,290.38 L328.87,290.39 L328.39,290.41 L327.91,290.42 L327.43,290.44 L326.94,290.45 L326.46,290.46 L325.98,290.48 L325.5,290.49 L325.02,290.5 L324.54,290.52 L324.06,290.53 L323.57,290.54 L323.09,290.55 L322.61,290.57 L322.13,290.58 L321.65,290.59 L321.16,290.6 L320.68,290.62 L320.2,290.63 L319.72,290.64 L319.24,290.65 L318.76,290.66 L318.27,290.67 L317.79,290.69 L317.31,290.7 L316.83,290.71 L316.35,290.72 L315.87,290.73 L315.38,290.74 L314.9,290.75 L314.42,290.76 L313.94,290.77 L313.46,290.78 L312.98,290.79 L312.5,290.8 L312.01,290.81 L311.53,290.82 L311.05,290.83 L310.57,290.84 L310.09,290.85 L309.6,290.86 L309.12,290.87 L308.64,290.88 L308.16,290.89 L307.68,290.9 L307.2,290.9 L306.71,290.91 L306.23,290.92 L305.75,290.93 L305.27,290.94 L304.79,290.95 L304.31,290.95 L303.82,290.96 L303.34,290.97 L302.86,290.98 L302.38,290.99 L301.9,290.99 L301.42,291 L300.94,291.01 L300.45,291.02 L299.97,291.03 L299.49,291.03 L299.01,291.04 L298.53,291.05 L298.04,291.05 L297.56,291.06 L297.08,291.07 L296.6,291.07 L296.12,291.08 L295.64,291.09 L295.15,291.1 L294.67,291.1 L294.19,291.11 L293.71,291.11 L293.23,291.12 L292.75,291.13 L292.26,291.13 L291.78,291.14 L291.3,291.15 L290.82,291.15 L290.34,291.16 L289.86,291.16 L289.38,291.17 L288.89,291.18 L288.41,291.18 L287.93,291.19 L287.45,291.19 L286.97,291.2 L286.49,291.2 L286,291.21 L285.52,291.21 L285.04,291.22 L284.56,291.22 L284.08,291.23 L283.59,291.24 L283.11,291.24 L282.63,291.25 L282.15,291.25" fill="none" stroke="#3050d8" stroke-width="1.1" stroke-linejoin="round" stroke-linecap="round" />
<path d="M282.15,326 L282.63,326 L283.11,325.99 L283.59,325.99 L284.08,325.98 L284.56,325.98 L285.04,325.97 L285.52,325.97 L286,325.96 L286.48,325.96 L286.97,325.95 L287.45,325.95 L287.93,325.94 L288.41,325.94 L288.89,325.93 L289.38,325.93 L289.86,325.92 L290.34,325.91 L290.82,325.91 L291.3,325.9 L291.78,325.89 L292.26,325.89 L292.75,325.88 L293.23,325.87 L293.71,325.87 L294.19,325.86 L294.67,325.85 L295.15,325.84 L295.64,325.84 L296.12,325.83 L296.6,325.82 L297.08,325.81 L297.56,325.8 L298.04,325.8 L298.53,325.79 L299.01,325.78 L299.49,325.77 L299.97,325.76 L300.45,325.75 L300.93,325.74 L301.42,325.73 L301.9,325.72 L302.38,325.71 L302.86,325.7 L303.34,325.69 L303.82,325.68 L304.31,325.66 L304.79,325.65 L305.27,325.64 L305.75,325.63 L306.23,325.62 L306.71,325.6 L307.2,325.59 L307.68,325.58 L308.16,325.56 L308.64,325.55 L309.12,325.53 L309.6,325.52 L310.09,325.5 L310.57,325.49 L311.05,325.47 L311.53,325.46 L312.01,325.44 L312.5,325.42 L312.98,325.41 L313.46,325.39 L313.94,325.37 L314.42,325.35 L314.9,325.33 L315.38,325.31 L315.87,325.29 L316.35,325.27 L316.83,325.25 L317.31,325.23 L317.79,325.21 L318.27,325.19 L318.76,325.17 L319.24,325.14 L319.72,325.12 L320.2,325.1 L320.68,325.07 L321.16,325.05 L321.65,325.02 L322.13,325 L322.61,324.97 L323.09,324.94 L323.57,324.91 L324.05,324.88 L324.54,324.86 L325.02,324.83 L325.5,324.79 L325.98,324.76 L326.46,324.73 L326.94,324.7 L327.43,324.66 L327.91,324.63 L328.39,324.6 L328.87,324.56 L329.35,324.52 L329.83,324.49 L330.32,324.45 L330.8,324.41 L331.28,324.37 L331.76,324.33 L332.24,324.29 L332.72,324.24 L333.21,324.2 L333.69,324.15 L334.17,324.11 L334.65,324.06 L335.13,324.01 L335.62,323.97 L336.1,323.92 L336.58,323.86 L337.06,323.81 L337.54,323.76 L338.02,323.7 L338.5,323.65 L338.99,323.59 L339.47,323.53 L339.95,323.47 L340.43,323.41 L340.91,323.35 L341.39,323.29 L341.88,323.22 L342.36,323.15 L342.84,323.09 L343.32,323.02 L343.8,322.95 L344.28,322.87 L344.77,322.8 L345.25,322.72 L345.73,322.64 L346.21,322.56 L346.69,322.48 L347.17,322.4 L347.66,322.31 L348.14,322.23 L348.62,322.14 L349.1,322.05 L349.58,321.95 L350.06,321.86 L350.55,321.76 L351.03,321.66 L351.51,321.56 L351.99,321.46 L352.47,321.35 L352.95,321.24 L353.44,321.13 L353.92,321.02 L354.4,320.9 L354.88,320.78 L355.36,320.66 L355.84,320.54 L356.33,320.41 L356.81,320.28 L357.29,320.15 L357.77,320.01 L358.25,319.87 L358.73,319.73 L359.22,319.58 L359.7,319.44 L360.18,319.28 L360.66,319.13 L361.14,318.97 L361.62,318.81 L362.11,318.64 L362.59,318.47 L363.07,318.29 L363.55,318.11 L364.03,317.92 L364.51,317.71 L365,317.48 L365.48,317.2 L365.96,316.85 L366.44,316.34 L366.92,315.57 L367.4,314.31 L367.89,312.26 L368.37,309.05 L368.85,304.55 L369.33,299.17 L369.81,293.93 L370.29,289.77 L370.78,286.96 L371.26,285.28 L371.74,284.34 L372.22,283.83 L372.7,283.55 L373.18,283.4 L373.67,283.32 L374.15,283.27 L374.63,283.24 L375.11,283.21 L375.59,283.19 L376.07,283.18 L376.56,283.16 L377.04,283.15 L377.52,283.13 L378,283.12 L378.48,283.11 L378.96,283.09 L379.45,283.08 L379.93,283.07 L380.41,283.05 L380.89,283.04 L381.37,283.03 L381.85,283.02 L382.34,283 L382.82,282.99 L383.3,282.98 L383.78,282.97 L384.26,282.96 L384.74,282.94 L385.23,282.93 L385.71,282.92 L386.19,282.91 L386.67,282.9 L387.15,282.89 L387.63,282.88 L388.12,282.87 L388.6,282.86 L389.08,282.85 L389.56,282.84 L390.04,282.83 L390.52,282.81 L391.01,282.8 L391.49,282.79 L391.97,282.79 L392.45,282.78 L392.93,282.77 L393.41,282.76 L393.9,282.75 L394.38,282.74 L394.86,282.73 L395.34,282.72 L395.82,282.71 L396.3,282.7 L396.79,282.69 L397.27,282.68 L397.75,282.68 L398.23,282.67 L398.71,282.66 L399.19,282.65 L399.68,282.64 L400.16,282.63 L400.64,282.63 L401.12,282.62 L401.6,282.61 L402.08,282.6 L402.57,282.59 L403.05,282.59 L403.53,282.58 L404.01,282.57 L404.49,282.56 L404.97,282.56 L405.46,282.55 L405.94,282.54 L406.42,282.54 L406.9,282.53 L407.38,282.52 L407.86,282.51 L408.35,282.51 L408.83,282.5 L409.31,282.49 L409.79,282.49 L410.27,282.48 L410.75,282.48 L411.24,282.47 L411.72,282.46 L412.2,282.46 L412.68,282.45 L413.16,282.44 L413.64,282.44 L414.13,282.43 L414.61,282.43 L415.09,282.42 L415.57,282.42 L416.05,282.41 L416.53,282.4 L417.02,282.4 L417.5,282.39 L417.98,282.39 L418.46,282.38 L418.94,282.38 L419.42,282.37 L419.91,282.37 L420.39,282.36 L420.87,282.36 L421.35,282.35 L421.83,282.35 L422.31,282.34 L422.8,282.34 L423.28,282.33 L423.76,282.33 L424.24,282.32 L424.72,282.32 L425.2,282.31 L425.69,282.31 L426.17,282.3 L426.65,282.3" fill="none" stroke="#b040d8" stroke-width="1.15" stroke-linejoin="round" stroke-linecap="round" />
<path d="M426.65,282.9 L426.17,282.9 L425.69,282.91 L425.2,282.91 L424.72,282.92 L424.24,282.92 L423.76,282.93 L423.28,282.93 L422.8,282.94 L422.31,282.94 L421.83,282.95 L421.35,282.95 L420.87,282.96 L420.39,282.96 L419.91,282.97 L419.42,282.97 L418.94,282.98 L418.46,282.98 L417.98,282.99 L417.5,282.99 L417.02,283 L416.53,283 L416.05,283.01 L415.57,283.02 L415.09,283.02 L414.61,283.03 L414.13,283.03 L413.64,283.04 L413.16,283.04 L412.68,283.05 L412.2,283.06 L411.72,283.06 L411.24,283.07 L410.75,283.08 L410.27,283.08 L409.79,283.09 L409.31,283.09 L408.83,283.1 L408.35,283.11 L407.87,283.11 L407.38,283.12 L406.9,283.13 L406.42,283.14 L405.94,283.14 L405.46,283.15 L404.97,283.16 L404.49,283.16 L404.01,283.17 L403.53,283.18 L403.05,283.19 L402.57,283.19 L402.08,283.2 L401.6,283.21 L401.12,283.22 L400.64,283.23 L400.16,283.23 L399.68,283.24 L399.19,283.25 L398.71,283.26 L398.23,283.27 L397.75,283.28 L397.27,283.28 L396.79,283.29 L396.3,283.3 L395.82,283.31 L395.34,283.32 L394.86,283.33 L394.38,283.34 L393.9,283.35 L393.41,283.36 L392.93,283.37 L392.45,283.38 L391.97,283.39 L391.49,283.39 L391.01,283.4 L390.52,283.41 L390.04,283.43 L389.56,283.44 L389.08,283.45 L388.6,283.46 L388.12,283.47 L387.63,283.48 L387.15,283.49 L386.67,283.5 L386.19,283.51 L385.71,283.52 L385.23,283.53 L384.75,283.54 L384.26,283.56 L383.78,283.57 L383.3,283.58 L382.82,283.59 L382.34,283.6 L381.85,283.62 L381.37,283.63 L380.89,283.64 L380.41,283.65 L379.93,283.67 L379.45,283.68 L378.96,283.69 L378.48,283.71 L378,283.72 L377.52,283.73 L377.04,283.75 L376.56,283.76 L376.07,283.78 L375.59,283.79 L375.11,283.8 L374.63,283.82 L374.15,283.83 L373.67,283.85 L373.18,283.86 L372.7,283.88 L372.22,283.89 L371.74,283.91 L371.26,283.92 L370.78,283.94 L370.29,283.96 L369.81,283.97 L369.33,283.99 L368.85,284.01 L368.37,284.02 L367.89,284.04 L367.4,284.06 L366.92,284.07 L366.44,284.09 L365.96,284.11 L365.48,284.13 L365,284.15 L364.51,284.16 L364.03,284.18 L363.55,284.2 L363.07,284.22 L362.59,284.24 L362.11,284.26 L361.62,284.28 L361.14,284.3 L360.66,284.32 L360.18,284.34 L359.7,284.36 L359.22,284.38 L358.73,284.4 L358.25,284.42 L357.77,284.44 L357.29,284.46 L356.81,284.49 L356.33,284.51 L355.84,284.53 L355.36,284.55 L354.88,284.58 L354.4,284.6 L353.92,284.62 L353.44,284.65 L352.95,284.67 L352.47,284.7 L351.99,284.72 L351.51,284.74 L351.03,284.77 L350.55,284.79 L350.06,284.82 L349.58,284.85 L349.1,284.87 L348.62,284.9 L348.14,284.93 L347.66,284.95 L347.17,284.98 L346.69,285.01 L346.21,285.05 L345.73,285.08 L345.25,285.13 L344.77,285.19 L344.28,285.29 L343.8,285.45 L343.32,285.74 L342.84,286.25 L342.36,287.19 L341.88,288.86 L341.39,291.66 L340.91,295.91 L340.43,301.4 L339.95,307.24 L339.47,312.26 L338.99,315.86 L338.5,318.13 L338.02,319.45 L337.54,320.2 L337.06,320.62 L336.58,320.86 L336.1,321.01 L335.62,321.11 L335.13,321.19 L334.65,321.25 L334.17,321.3 L333.69,321.35 L333.21,321.4 L332.72,321.44 L332.24,321.49 L331.76,321.53 L331.28,321.57 L330.8,321.61 L330.32,321.65 L329.83,321.69 L329.35,321.72 L328.87,321.76 L328.39,321.8 L327.91,321.83 L327.43,321.86 L326.94,321.89 L326.46,321.74 L325.98,320.65 L325.5,319.49 L325.02,320.71 L324.54,321.87 L324.06,322.08 L323.57,322.11 L323.09,322.14 L322.61,322.17 L322.13,322.2 L321.65,322.22 L321.16,322.25 L320.68,322.27 L320.2,322.3 L319.72,322.32 L319.24,322.34 L318.76,322.37 L318.27,322.39 L317.79,322.41 L317.31,322.43 L316.83,322.45 L316.35,322.47 L315.87,322.49 L315.38,322.51 L314.9,322.53 L314.42,322.55 L313.94,322.57 L313.46,322.59 L312.98,322.61 L312.5,322.62 L312.01,322.64 L311.53,322.66 L311.05,322.67 L310.57,322.69 L310.09,322.7 L309.6,322.72 L309.12,322.73 L308.64,322.75 L308.16,322.76 L307.68,322.78 L307.2,322.79 L306.71,322.8 L306.23,322.82 L305.75,322.83 L305.27,322.84 L304.79,322.85 L304.31,322.86 L303.82,322.88 L303.34,322.89 L302.86,322.9 L302.38,322.91 L301.9,322.92 L301.42,322.93 L300.94,322.94 L300.45,322.95 L299.97,322.96 L299.49,322.97 L299.01,322.98 L298.53,322.99 L298.04,323 L297.56,323 L297.08,323.01 L296.6,323.02 L296.12,323.03 L295.64,323.04 L295.15,323.04 L294.67,323.05 L294.19,323.06 L293.71,323.07 L293.23,323.07 L292.75,323.08 L292.26,323.09 L291.78,323.09 L291.3,323.1 L290.82,323.11 L290.34,323.11 L289.86,323.12 L289.38,323.13 L288.89,323.13 L288.41,323.14 L287.93,323.14 L287.45,323.15 L286.97,323.15 L286.49,323.16 L286,323.16 L285.52,323.17 L285.04,323.17 L284.56,323.18 L284.08,323.18 L283.59,323.19 L283.11,323.19 L282.63,323.2 L282.15,323.2" fill="none" stroke="#9030c8" stroke-width="1.1" stroke-linejoin="round" stroke-linecap="round" />
</g>
<text x="417.5" y="37.8" font-size="9.0" fill="#c8182a" font-weight="bold" text-anchor="middle" dominant-baseline="central"  stroke="#c8182a" stroke-width="0.22">200 K</text>
<text x="418" y="71.8" font-size="9.0" fill="#d02020" font-weight="bold" text-anchor="middle" dominant-baseline="central"  stroke="#d02020" stroke-width="0.22">180 K</text>
<text x="417.3" y="102.6" font-size="9.0" fill="#e04050" font-weight="bold" text-anchor="middle" dominant-baseline="central"  stroke="#e04050" stroke-width="0.22">150 K</text>
<text x="419" y="132" font-size="9.0" fill="#f09838" font-weight="bold" text-anchor="middle" dominant-baseline="central"  stroke="#f09838" stroke-width="0.22">100 K</text>
<text x="415.8" y="161.6" font-size="9.0" fill="#e4e050" font-weight="bold" text-anchor="middle" dominant-baseline="central"  stroke="#e4e050" stroke-width="0.22">70 K</text>
<text x="414.8" y="198.4" font-size="9.0" fill="#38c838" font-weight="bold" text-anchor="middle" dominant-baseline="central"  stroke="#38c838" stroke-width="0.22">50 K</text>
<text x="415.8" y="228.2" font-size="9.0" fill="#40c8e0" font-weight="bold" text-anchor="middle" dominant-baseline="central"  stroke="#40c8e0" stroke-width="0.22">30 K</text>
<text x="417.6" y="259.3" font-size="9.0" fill="#2020a8" font-weight="bold" text-anchor="middle" dominant-baseline="central"  stroke="#2020a8" stroke-width="0.22">10 K</text>
<text x="418.5" y="292" font-size="9.0" fill="#9030c8" font-weight="bold" text-anchor="middle" dominant-baseline="central"  stroke="#9030c8" stroke-width="0.22">2.5 K</text>
<rect x="488.1" y="9.1" width="180.7" height="325.7" fill="none" stroke="#111" stroke-width="1.3"/>
<line x1="504.4" y1="334.8" x2="504.4" y2="332" stroke="#111" stroke-width="1.0"/>
<line x1="537.17" y1="334.8" x2="537.17" y2="332" stroke="#111" stroke-width="1.0"/>
<line x1="569.95" y1="334.8" x2="569.95" y2="332" stroke="#111" stroke-width="1.0"/>
<line x1="602.72" y1="334.8" x2="602.72" y2="332" stroke="#111" stroke-width="1.0"/>
<line x1="635.5" y1="334.8" x2="635.5" y2="332" stroke="#111" stroke-width="1.0"/>
<line x1="520.79" y1="334.8" x2="520.79" y2="333.2" stroke="#111" stroke-width="1.0"/>
<line x1="553.56" y1="334.8" x2="553.56" y2="333.2" stroke="#111" stroke-width="1.0"/>
<line x1="586.34" y1="334.8" x2="586.34" y2="333.2" stroke="#111" stroke-width="1.0"/>
<line x1="619.11" y1="334.8" x2="619.11" y2="333.2" stroke="#111" stroke-width="1.0"/>
<line x1="651.89" y1="334.8" x2="651.89" y2="333.2" stroke="#111" stroke-width="1.0"/>
<line x1="488.1" y1="308.1" x2="490.9" y2="308.1" stroke="#111" stroke-width="1.0"/>
<line x1="488.1" y1="253.7" x2="490.9" y2="253.7" stroke="#111" stroke-width="1.0"/>
<line x1="488.1" y1="199.3" x2="490.9" y2="199.3" stroke="#111" stroke-width="1.0"/>
<line x1="488.1" y1="144.9" x2="490.9" y2="144.9" stroke="#111" stroke-width="1.0"/>
<line x1="488.1" y1="90.5" x2="490.9" y2="90.5" stroke="#111" stroke-width="1.0"/>
<line x1="488.1" y1="36.1" x2="490.9" y2="36.1" stroke="#111" stroke-width="1.0"/>
<line x1="488.1" y1="280.9" x2="489.7" y2="280.9" stroke="#111" stroke-width="1.0"/>
<line x1="488.1" y1="226.5" x2="489.7" y2="226.5" stroke="#111" stroke-width="1.0"/>
<line x1="488.1" y1="172.1" x2="489.7" y2="172.1" stroke="#111" stroke-width="1.0"/>
<line x1="488.1" y1="117.7" x2="489.7" y2="117.7" stroke="#111" stroke-width="1.0"/>
<line x1="488.1" y1="63.3" x2="489.7" y2="63.3" stroke="#111" stroke-width="1.0"/>
<text transform="translate(485 308.1) scale(1 1.15)" font-size="7.5" fill="#000" font-weight="bold" text-anchor="end" dominant-baseline="central"  stroke="#000" stroke-width="0.22">0.0</text>
<text transform="translate(485 253.7) scale(1 1.15)" font-size="7.5" fill="#000" font-weight="bold" text-anchor="end" dominant-baseline="central"  stroke="#000" stroke-width="0.22">0.2</text>
<text transform="translate(485 199.3) scale(1 1.15)" font-size="7.5" fill="#000" font-weight="bold" text-anchor="end" dominant-baseline="central"  stroke="#000" stroke-width="0.22">0.4</text>
<text transform="translate(485 144.9) scale(1 1.15)" font-size="7.5" fill="#000" font-weight="bold" text-anchor="end" dominant-baseline="central"  stroke="#000" stroke-width="0.22">0.6</text>
<text transform="translate(485 90.5) scale(1 1.15)" font-size="7.5" fill="#000" font-weight="bold" text-anchor="end" dominant-baseline="central"  stroke="#000" stroke-width="0.22">0.8</text>
<text transform="translate(485 36.1) scale(1 1.15)" font-size="7.5" fill="#000" font-weight="bold" text-anchor="end" dominant-baseline="central"  stroke="#000" stroke-width="0.22">1.0</text>
<text transform="translate(504.4 341.6) scale(1 1.15)" font-size="7.5" fill="#000" font-weight="bold" text-anchor="middle" dominant-baseline="central"  stroke="#000" stroke-width="0.22">0</text>
<text transform="translate(537.17 341.6) scale(1 1.15)" font-size="7.5" fill="#000" font-weight="bold" text-anchor="middle" dominant-baseline="central"  stroke="#000" stroke-width="0.22">50</text>
<text transform="translate(569.95 341.6) scale(1 1.15)" font-size="7.5" fill="#000" font-weight="bold" text-anchor="middle" dominant-baseline="central"  stroke="#000" stroke-width="0.22">100</text>
<text transform="translate(602.72 341.6) scale(1 1.15)" font-size="7.5" fill="#000" font-weight="bold" text-anchor="middle" dominant-baseline="central"  stroke="#000" stroke-width="0.22">150</text>
<text transform="translate(635.5 341.6) scale(1 1.15)" font-size="7.5" fill="#000" font-weight="bold" text-anchor="middle" dominant-baseline="central"  stroke="#000" stroke-width="0.22">200</text>
<text transform="translate(668.27 341.6) scale(1 1.15)" font-size="7.5" fill="#000" font-weight="bold" text-anchor="middle" dominant-baseline="central"  stroke="#000" stroke-width="0.22">250</text>
<text x="577.8" y="357" font-size="11.0" fill="#000" font-weight="bold" text-anchor="middle" dominant-baseline="central"  stroke="#000" stroke-width="0.22">Temperature (K)</text>
<text transform="translate(462.6 186.5) rotate(-90)" font-size="10.5" font-weight="bold" fill="#111" stroke="#111" stroke-width="0.22">H<tspan font-size="7" dy="2.5">c</tspan><tspan dy="-2.5"> (T)</tspan></text>
<defs><radialGradient id="gr" cx="0.35" cy="0.35" r="0.7"><stop offset="0" stop-color="#ff9090"/><stop offset="0.35" stop-color="#e81818"/><stop offset="1" stop-color="#a00000"/></radialGradient><radialGradient id="gp" cx="0.35" cy="0.35" r="0.7"><stop offset="0" stop-color="#c090ff"/><stop offset="0.35" stop-color="#7a18e0"/><stop offset="1" stop-color="#4a0090"/></radialGradient></defs>
<circle cx="510.95" cy="129.4" r="2.75" fill="url(#gr)"/>
<circle cx="524.06" cy="167.75" r="2.75" fill="url(#gr)"/>
<circle cx="537.17" cy="182.16" r="2.75" fill="url(#gr)"/>
<circle cx="550.28" cy="201.2" r="2.75" fill="url(#gr)"/>
<circle cx="569.95" cy="221.33" r="2.75" fill="url(#gr)"/>
<circle cx="602.72" cy="283.35" r="2.75" fill="url(#gr)"/>
<circle cx="622.39" cy="301.57" r="2.75" fill="url(#gr)"/>
<circle cx="635.5" cy="307.56" r="2.75" fill="url(#gr)"/>
<circle cx="510.95" cy="51.88" r="2.75" fill="url(#gp)"/>
<circle cx="524.06" cy="108.18" r="2.75" fill="url(#gp)"/>
<circle cx="537.17" cy="139.19" r="2.75" fill="url(#gp)"/>
<circle cx="550.28" cy="168.02" r="2.75" fill="url(#gp)"/>
<circle cx="569.95" cy="202.02" r="2.75" fill="url(#gp)"/>
<circle cx="602.72" cy="259.14" r="2.75" fill="url(#gp)"/>
<circle cx="622.39" cy="281.44" r="2.75" fill="url(#gp)"/>
<circle cx="635.5" cy="291.78" r="2.75" fill="url(#gp)"/>
<circle cx="500.3" cy="308.2" r="2.75" fill="url(#gr)"/>
<circle cx="500.3" cy="324.7" r="2.75" fill="url(#gp)"/>
<text x="510.8" y="310.9" font-size="10.8" font-weight="bold" fill="#111" stroke="#111" stroke-width="0.22">Fe<tspan font-size="7.5" dy="3">3</tspan><tspan dy="-3">GeTe</tspan><tspan font-size="7.5" dy="3">2</tspan></text>
<text x="510.3" y="327.6" font-size="10.8" font-weight="bold" fill="#111" stroke="#111" stroke-width="0.22">(Fe<tspan font-size="7.5" dy="3">3</tspan><tspan dy="-3">GeTe</tspan><tspan font-size="7.5" dy="3">2</tspan><tspan dy="-3">/MnTe)</tspan><tspan font-size="7.5" dy="3">3</tspan></text>
<rect x="568.5" y="9.1" width="100.1" height="140.9" fill="#fff" stroke="#1a1a1a" stroke-width="1.1"/>
<line x1="568.5" y1="79.2" x2="668.6" y2="79.2" stroke="#1a1a1a" stroke-width="1.1"/>
<line x1="582.64" y1="79.2" x2="582.64" y2="77.4" stroke="#111" stroke-width="1.0"/>
<line x1="596.97" y1="79.2" x2="596.97" y2="77.4" stroke="#111" stroke-width="1.0"/>
<line x1="611.31" y1="79.2" x2="611.31" y2="77.4" stroke="#111" stroke-width="1.0"/>
<line x1="625.65" y1="79.2" x2="625.65" y2="77.4" stroke="#111" stroke-width="1.0"/>
<line x1="639.99" y1="79.2" x2="639.99" y2="77.4" stroke="#111" stroke-width="1.0"/>
<line x1="654.32" y1="79.2" x2="654.32" y2="77.4" stroke="#111" stroke-width="1.0"/>
<line x1="582.64" y1="9.1" x2="582.64" y2="11.1" stroke="#111" stroke-width="1.0"/>
<line x1="596.97" y1="9.1" x2="596.97" y2="11.1" stroke="#111" stroke-width="1.0"/>
<line x1="611.31" y1="9.1" x2="611.31" y2="11.1" stroke="#111" stroke-width="1.0"/>
<line x1="625.65" y1="9.1" x2="625.65" y2="11.1" stroke="#111" stroke-width="1.0"/>
<line x1="639.99" y1="9.1" x2="639.99" y2="11.1" stroke="#111" stroke-width="1.0"/>
<line x1="654.32" y1="9.1" x2="654.32" y2="11.1" stroke="#111" stroke-width="1.0"/>
<line x1="568.5" y1="69.6" x2="571.3" y2="69.6" stroke="#111" stroke-width="1.0"/>
<line x1="568.5" y1="51.8" x2="571.3" y2="51.8" stroke="#111" stroke-width="1.0"/>
<line x1="568.5" y1="34" x2="571.3" y2="34" stroke="#111" stroke-width="1.0"/>
<line x1="568.5" y1="16.2" x2="571.3" y2="16.2" stroke="#111" stroke-width="1.0"/>
<line x1="568.5" y1="60.7" x2="570.1" y2="60.7" stroke="#111" stroke-width="1.0"/>
<line x1="568.5" y1="42.9" x2="570.1" y2="42.9" stroke="#111" stroke-width="1.0"/>
<line x1="568.5" y1="25.1" x2="570.1" y2="25.1" stroke="#111" stroke-width="1.0"/>
<line x1="668.6" y1="69.6" x2="665.8" y2="69.6" stroke="#111" stroke-width="1.0"/>
<line x1="668.6" y1="51.8" x2="665.8" y2="51.8" stroke="#111" stroke-width="1.0"/>
<line x1="668.6" y1="34" x2="665.8" y2="34" stroke="#111" stroke-width="1.0"/>
<line x1="668.6" y1="16.2" x2="665.8" y2="16.2" stroke="#111" stroke-width="1.0"/>
<text transform="translate(565.5 69.6) scale(1 1.15)" font-size="7.5" fill="#000" font-weight="bold" text-anchor="end" dominant-baseline="central"  stroke="#000" stroke-width="0.22">26</text>
<text transform="translate(565.5 51.8) scale(1 1.15)" font-size="7.5" fill="#000" font-weight="bold" text-anchor="end" dominant-baseline="central"  stroke="#000" stroke-width="0.22">52</text>
<text transform="translate(565.5 34) scale(1 1.15)" font-size="7.5" fill="#000" font-weight="bold" text-anchor="end" dominant-baseline="central"  stroke="#000" stroke-width="0.22">78</text>
<text transform="translate(565.5 16.2) scale(1 1.15)" font-size="7.5" fill="#000" font-weight="bold" text-anchor="end" dominant-baseline="central"  stroke="#000" stroke-width="0.22">104</text>
<line x1="582.64" y1="150" x2="582.64" y2="148.2" stroke="#111" stroke-width="1.0"/>
<line x1="596.97" y1="150" x2="596.97" y2="148.2" stroke="#111" stroke-width="1.0"/>
<line x1="611.31" y1="150" x2="611.31" y2="148.2" stroke="#111" stroke-width="1.0"/>
<line x1="625.65" y1="150" x2="625.65" y2="148.2" stroke="#111" stroke-width="1.0"/>
<line x1="639.99" y1="150" x2="639.99" y2="148.2" stroke="#111" stroke-width="1.0"/>
<line x1="654.32" y1="150" x2="654.32" y2="148.2" stroke="#111" stroke-width="1.0"/>
<line x1="568.5" y1="135.4" x2="571.3" y2="135.4" stroke="#111" stroke-width="1.0"/>
<line x1="568.5" y1="110.2" x2="571.3" y2="110.2" stroke="#111" stroke-width="1.0"/>
<line x1="568.5" y1="85" x2="571.3" y2="85" stroke="#111" stroke-width="1.0"/>
<line x1="568.5" y1="122.8" x2="570.1" y2="122.8" stroke="#111" stroke-width="1.0"/>
<line x1="568.5" y1="97.6" x2="570.1" y2="97.6" stroke="#111" stroke-width="1.0"/>
<line x1="668.6" y1="135.4" x2="665.8" y2="135.4" stroke="#111" stroke-width="1.0"/>
<line x1="668.6" y1="110.2" x2="665.8" y2="110.2" stroke="#111" stroke-width="1.0"/>
<line x1="668.6" y1="85" x2="665.8" y2="85" stroke="#111" stroke-width="1.0"/>
<text transform="translate(565.5 135.4) scale(1 1.15)" font-size="7.5" fill="#000" font-weight="bold" text-anchor="end" dominant-baseline="central"  stroke="#000" stroke-width="0.22">0.1</text>
<text transform="translate(565.5 110.2) scale(1 1.15)" font-size="7.5" fill="#000" font-weight="bold" text-anchor="end" dominant-baseline="central"  stroke="#000" stroke-width="0.22">0.2</text>
<text transform="translate(565.5 85) scale(1 1.15)" font-size="7.5" fill="#000" font-weight="bold" text-anchor="end" dominant-baseline="central"  stroke="#000" stroke-width="0.22">0.3</text>
<text transform="translate(568.3 157.3) scale(1 1.15)" font-size="7.5" fill="#000" font-weight="bold" text-anchor="middle" dominant-baseline="central"  stroke="#000" stroke-width="0.22">0</text>
<text transform="translate(596.97 157.3) scale(1 1.15)" font-size="7.5" fill="#000" font-weight="bold" text-anchor="middle" dominant-baseline="central"  stroke="#000" stroke-width="0.22">50</text>
<text transform="translate(625.65 157.3) scale(1 1.15)" font-size="7.5" fill="#000" font-weight="bold" text-anchor="middle" dominant-baseline="central"  stroke="#000" stroke-width="0.22">100</text>
<text transform="translate(654.32 157.3) scale(1 1.15)" font-size="7.5" fill="#000" font-weight="bold" text-anchor="middle" dominant-baseline="central"  stroke="#000" stroke-width="0.22">150</text>
<text x="618.7" y="172.4" font-size="11.1" fill="#000" font-weight="bold" text-anchor="middle" dominant-baseline="central"  stroke="#000" stroke-width="0.22">Temperature (K)</text>
<rect x="572.53" y="56.26" width="3" height="3" fill="#111"/>
<rect x="584" y="57.15" width="3" height="3" fill="#111"/>
<rect x="595.47" y="62.62" width="3" height="3" fill="#111"/>
<rect x="606.94" y="65.02" width="3" height="3" fill="#111"/>
<rect x="624.15" y="70.84" width="3" height="3" fill="#111"/>
<rect x="652.82" y="17.92" width="3" height="3" fill="#111"/>
<rect x="572.53" y="86.52" width="3" height="3" fill="#111"/>
<rect x="584" y="103.66" width="3" height="3" fill="#111"/>
<rect x="595.47" y="118.78" width="3" height="3" fill="#111"/>
<rect x="606.94" y="128.61" width="3" height="3" fill="#111"/>
<rect x="624.15" y="141.21" width="3" height="3" fill="#111"/>
<rect x="652.82" y="136.42" width="3" height="3" fill="#111"/>
<text transform="translate(546.9 71.4) rotate(-90)" font-size="11.2" font-weight="bold" fill="#111" stroke="#111" stroke-width="0.22">&#916;H<tspan font-size="7.8" dy="2.3">C</tspan><tspan dy="-2.3">/H</tspan><tspan font-size="7.8" dy="2.3">C</tspan><tspan dy="-2.3"> (%)</tspan></text>
<text transform="translate(550.6 131.2) rotate(-90)" font-size="11.2" font-weight="bold" fill="#111" stroke="#111" stroke-width="0.22">&#916;H<tspan font-size="7" dy="2.5">c</tspan><tspan dy="-2.5"> (T)</tspan></text>
</svg></body></html>
